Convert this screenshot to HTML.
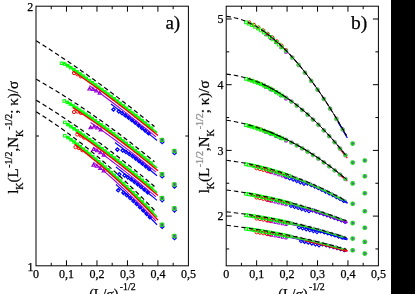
<!DOCTYPE html><html><head><meta charset="utf-8"><style>html,body{margin:0;padding:0;background:#fff;overflow:hidden;font-family:"Liberation Serif",serif}svg{display:block;will-change:transform}</style></head><body><svg width="415" height="294" viewBox="0 0 415 294">
<rect width="415" height="294" fill="#fff"/>
<rect x="391" y="0" width="24" height="294" fill="#000"/>
<g>
<polyline points="111.00,104.10 113.30,105.84 115.60,107.58 117.90,109.33 120.20,111.09 122.50,112.86 124.80,114.63 127.10,116.42 129.40,118.22 131.70,120.02 134.00,121.83 136.30,123.65 138.60,125.48 140.90,127.32 143.20,129.17 145.50,131.03 147.80,132.89 150.10,134.77 152.40,136.65 154.70,138.55 157.00,140.45" fill="none" stroke="#0000ff" stroke-width="1.2"/>
<path d="M113.50,107.84L115.15,109.49L113.50,111.14L111.85,109.49Z" fill="none" stroke="#0000ff" stroke-width="1.3"/>
<path d="M118.80,109.70L120.45,111.35L118.80,113.00L117.15,111.35Z" fill="none" stroke="#0000ff" stroke-width="1.3"/>
<path d="M122.10,111.58L123.75,113.23L122.10,114.88L120.45,113.23Z" fill="none" stroke="#0000ff" stroke-width="1.3"/>
<path d="M125.40,113.76L127.05,115.41L125.40,117.06L123.75,115.41Z" fill="none" stroke="#0000ff" stroke-width="1.3"/>
<path d="M128.70,116.11L130.35,117.76L128.70,119.41L127.05,117.76Z" fill="none" stroke="#0000ff" stroke-width="1.3"/>
<path d="M132.00,118.57L133.65,120.22L132.00,121.87L130.35,120.22Z" fill="none" stroke="#0000ff" stroke-width="1.3"/>
<path d="M135.30,121.11L136.95,122.76L135.30,124.41L133.65,122.76Z" fill="none" stroke="#0000ff" stroke-width="1.3"/>
<path d="M138.60,123.69L140.25,125.34L138.60,126.99L136.95,125.34Z" fill="none" stroke="#0000ff" stroke-width="1.3"/>
<path d="M141.90,126.31L143.55,127.96L141.90,129.61L140.25,127.96Z" fill="none" stroke="#0000ff" stroke-width="1.3"/>
<path d="M145.20,128.95L146.85,130.60L145.20,132.25L143.55,130.60Z" fill="none" stroke="#0000ff" stroke-width="1.3"/>
<path d="M148.50,131.63L150.15,133.28L148.50,134.93L146.85,133.28Z" fill="none" stroke="#0000ff" stroke-width="1.3"/>
<polyline points="89.50,85.64 92.83,88.03 96.15,90.43 99.47,92.86 102.80,95.30 106.12,97.76 109.45,100.24 112.78,102.74 116.10,105.26 119.42,107.80 122.75,110.35 126.08,112.92 129.40,115.52 132.72,118.13 136.05,120.75 139.38,123.40 142.70,126.07 146.03,128.75 149.35,131.46 152.68,134.18 156.00,136.92" fill="none" stroke="#9a00d8" stroke-width="1.1"/>
<path d="M87.90,89.93L91.10,89.93L89.50,87.15Z" fill="none" stroke="#9a00d8" stroke-width="1.1"/>
<path d="M91.30,90.42L94.50,90.42L92.90,87.64Z" fill="none" stroke="#9a00d8" stroke-width="1.1"/>
<path d="M94.70,92.05L97.90,92.05L96.30,89.27Z" fill="none" stroke="#9a00d8" stroke-width="1.1"/>
<path d="M98.10,94.18L101.30,94.18L99.70,91.39Z" fill="none" stroke="#9a00d8" stroke-width="1.1"/>
<circle cx="74.00" cy="73.05" r="1.6" fill="none" stroke="#ff0000" stroke-width="1"/>
<circle cx="77.40" cy="74.32" r="1.6" fill="none" stroke="#ff0000" stroke-width="1"/>
<circle cx="80.80" cy="76.34" r="1.6" fill="none" stroke="#ff0000" stroke-width="1"/>
<rect x="60.25" y="62.02" width="2.5" height="2.5" fill="none" stroke="#00ff00" stroke-width="1"/>
<rect x="63.35" y="62.81" width="2.5" height="2.5" fill="none" stroke="#00ff00" stroke-width="1"/>
<rect x="66.45" y="64.45" width="2.5" height="2.5" fill="none" stroke="#00ff00" stroke-width="1"/>
<rect x="69.55" y="66.40" width="2.5" height="2.5" fill="none" stroke="#00ff00" stroke-width="1"/>
<rect x="72.65" y="68.47" width="2.5" height="2.5" fill="none" stroke="#00ff00" stroke-width="1"/>
<rect x="75.75" y="70.59" width="2.5" height="2.5" fill="none" stroke="#00ff00" stroke-width="1"/>
<rect x="78.85" y="72.74" width="2.5" height="2.5" fill="none" stroke="#00ff00" stroke-width="1"/>
<rect x="81.95" y="74.92" width="2.5" height="2.5" fill="none" stroke="#00ff00" stroke-width="1"/>
<rect x="85.05" y="77.11" width="2.5" height="2.5" fill="none" stroke="#00ff00" stroke-width="1"/>
<rect x="88.15" y="79.32" width="2.5" height="2.5" fill="none" stroke="#00ff00" stroke-width="1"/>
<rect x="91.25" y="81.54" width="2.5" height="2.5" fill="none" stroke="#00ff00" stroke-width="1"/>
<rect x="94.35" y="83.78" width="2.5" height="2.5" fill="none" stroke="#00ff00" stroke-width="1"/>
<rect x="97.45" y="86.04" width="2.5" height="2.5" fill="none" stroke="#00ff00" stroke-width="1"/>
<rect x="100.55" y="88.31" width="2.5" height="2.5" fill="none" stroke="#00ff00" stroke-width="1"/>
<rect x="103.65" y="90.60" width="2.5" height="2.5" fill="none" stroke="#00ff00" stroke-width="1"/>
<rect x="106.75" y="92.91" width="2.5" height="2.5" fill="none" stroke="#00ff00" stroke-width="1"/>
<rect x="109.85" y="95.23" width="2.5" height="2.5" fill="none" stroke="#00ff00" stroke-width="1"/>
<rect x="112.95" y="97.57" width="2.5" height="2.5" fill="none" stroke="#00ff00" stroke-width="1"/>
<rect x="116.05" y="99.92" width="2.5" height="2.5" fill="none" stroke="#00ff00" stroke-width="1"/>
<rect x="119.15" y="102.29" width="2.5" height="2.5" fill="none" stroke="#00ff00" stroke-width="1"/>
<rect x="122.25" y="104.68" width="2.5" height="2.5" fill="none" stroke="#00ff00" stroke-width="1"/>
<rect x="125.35" y="107.08" width="2.5" height="2.5" fill="none" stroke="#00ff00" stroke-width="1"/>
<rect x="128.45" y="109.50" width="2.5" height="2.5" fill="none" stroke="#00ff00" stroke-width="1"/>
<rect x="131.55" y="111.93" width="2.5" height="2.5" fill="none" stroke="#00ff00" stroke-width="1"/>
<rect x="134.65" y="114.39" width="2.5" height="2.5" fill="none" stroke="#00ff00" stroke-width="1"/>
<rect x="137.75" y="116.85" width="2.5" height="2.5" fill="none" stroke="#00ff00" stroke-width="1"/>
<rect x="140.85" y="119.34" width="2.5" height="2.5" fill="none" stroke="#00ff00" stroke-width="1"/>
<rect x="143.95" y="121.84" width="2.5" height="2.5" fill="none" stroke="#00ff00" stroke-width="1"/>
<rect x="147.05" y="124.35" width="2.5" height="2.5" fill="none" stroke="#00ff00" stroke-width="1"/>
<rect x="150.15" y="126.88" width="2.5" height="2.5" fill="none" stroke="#00ff00" stroke-width="1"/>
<polyline points="63.50,62.61 66.62,64.71 69.73,66.83 72.85,68.96 75.97,71.11 79.08,73.28 82.20,75.46 85.32,77.66 88.43,79.88 91.55,82.11 94.67,84.36 97.78,86.62 100.90,88.90 104.02,91.20 107.13,93.51 110.25,95.84 113.37,98.19 116.48,100.55 119.60,102.93 122.72,105.32 125.83,107.74 128.95,110.16 132.07,112.61 135.18,115.07 138.30,117.54 141.42,120.04 144.53,122.55 147.65,125.07 150.77,127.61 153.88,130.17 157.00,132.75" fill="none" stroke="#00ff00" stroke-width="1.8"/>
<polyline points="73.00,71.06 75.83,73.02 78.67,74.99 81.50,76.97 84.33,78.96 87.17,80.97 90.00,83.00 92.83,85.03 95.67,87.08 98.50,89.14 101.33,91.22 104.17,93.31 107.00,95.41 109.83,97.53 112.67,99.66 115.50,101.80 118.33,103.96 121.17,106.13 124.00,108.32 126.83,110.51 129.67,112.72 132.50,114.95 135.33,117.19 138.17,119.44 141.00,121.70 143.83,123.98 146.67,126.27 149.50,128.58 152.33,130.90 155.17,133.23 158.00,135.58" fill="none" stroke="#ff0000" stroke-width="1.4"/>
<polyline points="36.20,40.80 38.17,42.04 40.14,43.28 42.12,44.53 44.09,45.79 46.06,47.05 48.03,48.32 50.00,49.59 51.97,50.88 53.95,52.17 55.92,53.46 57.89,54.76 59.86,56.07 61.83,57.39 63.80,58.71 65.78,60.04 67.75,61.37 69.72,62.72 71.69,64.06 73.66,65.42 75.63,66.78 77.60,68.15 79.58,69.52 81.55,70.90 83.52,72.29 85.49,73.68 87.46,75.08 89.44,76.49 91.41,77.90 93.38,79.32 95.35,80.75 97.32,82.18 99.29,83.62 101.27,85.07 103.24,86.52 105.21,87.98 107.18,89.45 109.15,90.92 111.12,92.40 113.09,93.88 115.07,95.37 117.04,96.87 119.01,98.38 120.98,99.89 122.95,101.41 124.92,102.93 126.90,104.46 128.87,106.00 130.84,107.54 132.81,109.09 134.78,110.65 136.75,112.21 138.73,113.78 140.70,115.36 142.67,116.94 144.64,118.53 146.61,120.13 148.58,121.73 150.56,123.34 152.53,124.96 154.50,126.58" fill="none" stroke="#000" stroke-width="1.2" stroke-dasharray="4.5,3"/>
<polyline points="115.00,142.60 117.10,144.17 119.20,145.74 121.30,147.32 123.40,148.91 125.50,150.51 127.60,152.12 129.70,153.74 131.80,155.37 133.90,157.01 136.00,158.66 138.10,160.32 140.20,161.99 142.30,163.67 144.40,165.36 146.50,167.06 148.60,168.76 150.70,170.48 152.80,172.21 154.90,173.94 157.00,175.69" fill="none" stroke="#0000ff" stroke-width="1.2"/>
<path d="M117.40,147.94L119.05,149.59L117.40,151.24L115.75,149.59Z" fill="none" stroke="#0000ff" stroke-width="1.3"/>
<path d="M122.70,148.76L124.35,150.41L122.70,152.06L121.05,150.41Z" fill="none" stroke="#0000ff" stroke-width="1.3"/>
<path d="M126.00,150.33L127.65,151.98L126.00,153.63L124.35,151.98Z" fill="none" stroke="#0000ff" stroke-width="1.3"/>
<path d="M129.30,152.33L130.95,153.98L129.30,155.63L127.65,153.98Z" fill="none" stroke="#0000ff" stroke-width="1.3"/>
<path d="M132.60,154.58L134.25,156.23L132.60,157.88L130.95,156.23Z" fill="none" stroke="#0000ff" stroke-width="1.3"/>
<path d="M135.90,156.98L137.55,158.63L135.90,160.28L134.25,158.63Z" fill="none" stroke="#0000ff" stroke-width="1.3"/>
<path d="M139.20,159.49L140.85,161.14L139.20,162.79L137.55,161.14Z" fill="none" stroke="#0000ff" stroke-width="1.3"/>
<path d="M142.50,162.06L144.15,163.71L142.50,165.36L140.85,163.71Z" fill="none" stroke="#0000ff" stroke-width="1.3"/>
<path d="M145.80,164.69L147.45,166.34L145.80,167.99L144.15,166.34Z" fill="none" stroke="#0000ff" stroke-width="1.3"/>
<path d="M149.10,167.35L150.75,169.00L149.10,170.65L147.45,169.00Z" fill="none" stroke="#0000ff" stroke-width="1.3"/>
<polyline points="90.60,122.47 93.87,124.73 97.14,127.01 100.41,129.32 103.68,131.65 106.95,134.01 110.22,136.39 113.49,138.79 116.76,141.21 120.03,143.66 123.30,146.14 126.57,148.63 129.84,151.15 133.11,153.69 136.38,156.26 139.65,158.85 142.92,161.47 146.19,164.10 149.46,166.76 152.73,169.45 156.00,172.16" fill="none" stroke="#9a00d8" stroke-width="1.1"/>
<path d="M89.00,128.76L92.20,128.76L90.60,125.97Z" fill="none" stroke="#9a00d8" stroke-width="1.1"/>
<path d="M92.40,128.02L95.60,128.02L94.00,125.23Z" fill="none" stroke="#9a00d8" stroke-width="1.1"/>
<path d="M95.80,129.07L99.00,129.07L97.40,126.29Z" fill="none" stroke="#9a00d8" stroke-width="1.1"/>
<path d="M99.20,130.91L102.40,130.91L100.80,128.13Z" fill="none" stroke="#9a00d8" stroke-width="1.1"/>
<circle cx="74.00" cy="112.05" r="1.6" fill="none" stroke="#ff0000" stroke-width="1"/>
<circle cx="77.40" cy="111.56" r="1.6" fill="none" stroke="#ff0000" stroke-width="1"/>
<circle cx="80.80" cy="112.94" r="1.6" fill="none" stroke="#ff0000" stroke-width="1"/>
<rect x="62.95" y="99.72" width="2.5" height="2.5" fill="none" stroke="#00ff00" stroke-width="1"/>
<rect x="66.05" y="101.11" width="2.5" height="2.5" fill="none" stroke="#00ff00" stroke-width="1"/>
<rect x="69.15" y="102.88" width="2.5" height="2.5" fill="none" stroke="#00ff00" stroke-width="1"/>
<rect x="72.25" y="104.81" width="2.5" height="2.5" fill="none" stroke="#00ff00" stroke-width="1"/>
<rect x="75.35" y="106.82" width="2.5" height="2.5" fill="none" stroke="#00ff00" stroke-width="1"/>
<rect x="78.45" y="108.85" width="2.5" height="2.5" fill="none" stroke="#00ff00" stroke-width="1"/>
<rect x="81.55" y="110.92" width="2.5" height="2.5" fill="none" stroke="#00ff00" stroke-width="1"/>
<rect x="84.65" y="113.01" width="2.5" height="2.5" fill="none" stroke="#00ff00" stroke-width="1"/>
<rect x="87.75" y="115.12" width="2.5" height="2.5" fill="none" stroke="#00ff00" stroke-width="1"/>
<rect x="90.85" y="117.25" width="2.5" height="2.5" fill="none" stroke="#00ff00" stroke-width="1"/>
<rect x="93.95" y="119.40" width="2.5" height="2.5" fill="none" stroke="#00ff00" stroke-width="1"/>
<rect x="97.05" y="121.58" width="2.5" height="2.5" fill="none" stroke="#00ff00" stroke-width="1"/>
<rect x="100.15" y="123.77" width="2.5" height="2.5" fill="none" stroke="#00ff00" stroke-width="1"/>
<rect x="103.25" y="125.99" width="2.5" height="2.5" fill="none" stroke="#00ff00" stroke-width="1"/>
<rect x="106.35" y="128.23" width="2.5" height="2.5" fill="none" stroke="#00ff00" stroke-width="1"/>
<rect x="109.45" y="130.49" width="2.5" height="2.5" fill="none" stroke="#00ff00" stroke-width="1"/>
<rect x="112.55" y="132.77" width="2.5" height="2.5" fill="none" stroke="#00ff00" stroke-width="1"/>
<rect x="115.65" y="135.07" width="2.5" height="2.5" fill="none" stroke="#00ff00" stroke-width="1"/>
<rect x="118.75" y="137.39" width="2.5" height="2.5" fill="none" stroke="#00ff00" stroke-width="1"/>
<rect x="121.85" y="139.73" width="2.5" height="2.5" fill="none" stroke="#00ff00" stroke-width="1"/>
<rect x="124.95" y="142.10" width="2.5" height="2.5" fill="none" stroke="#00ff00" stroke-width="1"/>
<rect x="128.05" y="144.48" width="2.5" height="2.5" fill="none" stroke="#00ff00" stroke-width="1"/>
<rect x="131.15" y="146.89" width="2.5" height="2.5" fill="none" stroke="#00ff00" stroke-width="1"/>
<rect x="134.25" y="149.32" width="2.5" height="2.5" fill="none" stroke="#00ff00" stroke-width="1"/>
<rect x="137.35" y="151.77" width="2.5" height="2.5" fill="none" stroke="#00ff00" stroke-width="1"/>
<rect x="140.45" y="154.24" width="2.5" height="2.5" fill="none" stroke="#00ff00" stroke-width="1"/>
<rect x="143.55" y="156.73" width="2.5" height="2.5" fill="none" stroke="#00ff00" stroke-width="1"/>
<rect x="146.65" y="159.24" width="2.5" height="2.5" fill="none" stroke="#00ff00" stroke-width="1"/>
<rect x="149.75" y="161.78" width="2.5" height="2.5" fill="none" stroke="#00ff00" stroke-width="1"/>
<polyline points="66.20,101.34 69.23,103.27 72.25,105.22 75.28,107.19 78.31,109.18 81.33,111.19 84.36,113.22 87.39,115.27 90.41,117.34 93.44,119.43 96.47,121.54 99.49,123.67 102.52,125.82 105.55,127.99 108.57,130.18 111.60,132.40 114.63,134.63 117.65,136.88 120.68,139.15 123.71,141.44 126.73,143.76 129.76,146.09 132.79,148.44 135.81,150.82 138.84,153.21 141.87,155.62 144.89,158.06 147.92,160.51 150.95,162.98 153.97,165.48 157.00,167.99" fill="none" stroke="#00ff00" stroke-width="1.8"/>
<polyline points="73.00,107.70 75.83,109.55 78.67,111.41 81.50,113.30 84.33,115.20 87.17,117.12 90.00,119.05 92.83,121.01 95.67,122.98 98.50,124.97 101.33,126.98 104.17,129.00 107.00,131.04 109.83,133.10 112.67,135.18 115.50,137.28 118.33,139.39 121.17,141.52 124.00,143.67 126.83,145.83 129.67,148.02 132.50,150.22 135.33,152.44 138.17,154.67 141.00,156.93 143.83,159.20 146.67,161.49 149.50,163.80 152.33,166.12 155.17,168.47 158.00,170.83" fill="none" stroke="#ff0000" stroke-width="1.4"/>
<polyline points="36.20,79.20 38.17,80.32 40.14,81.46 42.12,82.60 44.09,83.75 46.06,84.91 48.03,86.08 50.00,87.25 51.97,88.44 53.95,89.63 55.92,90.83 57.89,92.04 59.86,93.26 61.83,94.49 63.80,95.72 65.78,96.97 67.75,98.22 69.72,99.48 71.69,100.75 73.66,102.03 75.63,103.32 77.60,104.61 79.58,105.92 81.55,107.23 83.52,108.55 85.49,109.88 87.46,111.22 89.44,112.57 91.41,113.92 93.38,115.29 95.35,116.66 97.32,118.04 99.29,119.43 101.27,120.83 103.24,122.23 105.21,123.65 107.18,125.07 109.15,126.51 111.12,127.95 113.09,129.40 115.07,130.85 117.04,132.32 119.01,133.80 120.98,135.28 122.95,136.77 124.92,138.27 126.90,139.78 128.87,141.30 130.84,142.83 132.81,144.36 134.78,145.91 136.75,147.46 138.73,149.02 140.70,150.59 142.67,152.17 144.64,153.75 146.61,155.35 148.58,156.95 150.56,158.56 152.53,160.18 154.50,161.81" fill="none" stroke="#000" stroke-width="1.2" stroke-dasharray="4.5,3"/>
<polyline points="116.00,167.01 118.05,168.60 120.10,170.20 122.15,171.80 124.20,173.41 126.25,175.03 128.30,176.66 130.35,178.30 132.40,179.95 134.45,181.61 136.50,183.27 138.55,184.94 140.60,186.63 142.65,188.32 144.70,190.02 146.75,191.72 148.80,193.44 150.85,195.17 152.90,196.90 154.95,198.64 157.00,200.39" fill="none" stroke="#0000ff" stroke-width="1.2"/>
<path d="M119.30,172.62L120.95,174.27L119.30,175.92L117.65,174.27Z" fill="none" stroke="#0000ff" stroke-width="1.3"/>
<path d="M124.60,173.90L126.25,175.55L124.60,177.20L122.95,175.55Z" fill="none" stroke="#0000ff" stroke-width="1.3"/>
<path d="M127.90,175.66L129.55,177.31L127.90,178.96L126.25,177.31Z" fill="none" stroke="#0000ff" stroke-width="1.3"/>
<path d="M131.20,177.81L132.85,179.46L131.20,181.11L129.55,179.46Z" fill="none" stroke="#0000ff" stroke-width="1.3"/>
<path d="M134.50,180.19L136.15,181.84L134.50,183.49L132.85,181.84Z" fill="none" stroke="#0000ff" stroke-width="1.3"/>
<path d="M137.80,182.71L139.45,184.36L137.80,186.01L136.15,184.36Z" fill="none" stroke="#0000ff" stroke-width="1.3"/>
<path d="M141.10,185.32L142.75,186.97L141.10,188.62L139.45,186.97Z" fill="none" stroke="#0000ff" stroke-width="1.3"/>
<path d="M144.40,187.99L146.05,189.64L144.40,191.29L142.75,189.64Z" fill="none" stroke="#0000ff" stroke-width="1.3"/>
<path d="M147.70,190.71L149.35,192.36L147.70,194.01L146.05,192.36Z" fill="none" stroke="#0000ff" stroke-width="1.3"/>
<polyline points="93.60,147.54 96.72,149.82 99.84,152.11 102.96,154.42 106.08,156.76 109.20,159.11 112.32,161.49 115.44,163.88 118.56,166.30 121.68,168.73 124.80,171.19 127.92,173.66 131.04,176.16 134.16,178.67 137.28,181.21 140.40,183.76 143.52,186.34 146.64,188.93 149.76,191.55 152.88,194.18 156.00,196.84" fill="none" stroke="#9a00d8" stroke-width="1.1"/>
<path d="M92.00,150.33L95.20,150.33L93.60,147.55Z" fill="none" stroke="#9a00d8" stroke-width="1.1"/>
<path d="M95.40,151.72L98.60,151.72L97.00,148.94Z" fill="none" stroke="#9a00d8" stroke-width="1.1"/>
<path d="M98.80,153.76L102.00,153.76L100.40,150.98Z" fill="none" stroke="#9a00d8" stroke-width="1.1"/>
<path d="M102.20,156.09L105.40,156.09L103.80,153.31Z" fill="none" stroke="#9a00d8" stroke-width="1.1"/>
<circle cx="77.30" cy="134.48" r="1.6" fill="none" stroke="#ff0000" stroke-width="1"/>
<circle cx="80.70" cy="135.63" r="1.6" fill="none" stroke="#ff0000" stroke-width="1"/>
<circle cx="84.10" cy="137.63" r="1.6" fill="none" stroke="#ff0000" stroke-width="1"/>
<rect x="63.55" y="121.14" width="2.5" height="2.5" fill="none" stroke="#00ff00" stroke-width="1"/>
<rect x="66.65" y="123.28" width="2.5" height="2.5" fill="none" stroke="#00ff00" stroke-width="1"/>
<rect x="69.75" y="125.40" width="2.5" height="2.5" fill="none" stroke="#00ff00" stroke-width="1"/>
<rect x="72.85" y="127.53" width="2.5" height="2.5" fill="none" stroke="#00ff00" stroke-width="1"/>
<rect x="75.95" y="129.66" width="2.5" height="2.5" fill="none" stroke="#00ff00" stroke-width="1"/>
<rect x="79.05" y="131.82" width="2.5" height="2.5" fill="none" stroke="#00ff00" stroke-width="1"/>
<rect x="82.15" y="133.99" width="2.5" height="2.5" fill="none" stroke="#00ff00" stroke-width="1"/>
<rect x="85.25" y="136.19" width="2.5" height="2.5" fill="none" stroke="#00ff00" stroke-width="1"/>
<rect x="88.35" y="138.40" width="2.5" height="2.5" fill="none" stroke="#00ff00" stroke-width="1"/>
<rect x="91.45" y="140.64" width="2.5" height="2.5" fill="none" stroke="#00ff00" stroke-width="1"/>
<rect x="94.55" y="142.89" width="2.5" height="2.5" fill="none" stroke="#00ff00" stroke-width="1"/>
<rect x="97.65" y="145.17" width="2.5" height="2.5" fill="none" stroke="#00ff00" stroke-width="1"/>
<rect x="100.75" y="147.46" width="2.5" height="2.5" fill="none" stroke="#00ff00" stroke-width="1"/>
<rect x="103.85" y="149.77" width="2.5" height="2.5" fill="none" stroke="#00ff00" stroke-width="1"/>
<rect x="106.95" y="152.11" width="2.5" height="2.5" fill="none" stroke="#00ff00" stroke-width="1"/>
<rect x="110.05" y="154.46" width="2.5" height="2.5" fill="none" stroke="#00ff00" stroke-width="1"/>
<rect x="113.15" y="156.83" width="2.5" height="2.5" fill="none" stroke="#00ff00" stroke-width="1"/>
<rect x="116.25" y="159.22" width="2.5" height="2.5" fill="none" stroke="#00ff00" stroke-width="1"/>
<rect x="119.35" y="161.64" width="2.5" height="2.5" fill="none" stroke="#00ff00" stroke-width="1"/>
<rect x="122.45" y="164.07" width="2.5" height="2.5" fill="none" stroke="#00ff00" stroke-width="1"/>
<rect x="125.55" y="166.52" width="2.5" height="2.5" fill="none" stroke="#00ff00" stroke-width="1"/>
<rect x="128.65" y="168.99" width="2.5" height="2.5" fill="none" stroke="#00ff00" stroke-width="1"/>
<rect x="131.75" y="171.48" width="2.5" height="2.5" fill="none" stroke="#00ff00" stroke-width="1"/>
<rect x="134.85" y="174.00" width="2.5" height="2.5" fill="none" stroke="#00ff00" stroke-width="1"/>
<rect x="137.95" y="176.53" width="2.5" height="2.5" fill="none" stroke="#00ff00" stroke-width="1"/>
<rect x="141.05" y="179.08" width="2.5" height="2.5" fill="none" stroke="#00ff00" stroke-width="1"/>
<rect x="144.15" y="181.65" width="2.5" height="2.5" fill="none" stroke="#00ff00" stroke-width="1"/>
<rect x="147.25" y="184.24" width="2.5" height="2.5" fill="none" stroke="#00ff00" stroke-width="1"/>
<rect x="150.35" y="186.85" width="2.5" height="2.5" fill="none" stroke="#00ff00" stroke-width="1"/>
<polyline points="66.80,123.83 69.81,125.86 72.81,127.90 75.82,129.96 78.83,132.04 81.83,134.14 84.84,136.26 87.85,138.40 90.85,140.56 93.86,142.73 96.87,144.92 99.87,147.13 102.88,149.36 105.89,151.61 108.89,153.88 111.90,156.17 114.91,158.47 117.91,160.80 120.92,163.14 123.93,165.50 126.93,167.88 129.94,170.27 132.95,172.69 135.95,175.13 138.96,177.58 141.97,180.05 144.97,182.54 147.98,185.05 150.99,187.58 153.99,190.13 157.00,192.69" fill="none" stroke="#00ff00" stroke-width="1.8"/>
<polyline points="76.30,132.29 79.02,134.18 81.75,136.08 84.47,138.00 87.19,139.93 89.92,141.88 92.64,143.84 95.36,145.82 98.09,147.82 100.81,149.83 103.53,151.85 106.26,153.89 108.98,155.95 111.70,158.02 114.43,160.10 117.15,162.20 119.87,164.32 122.60,166.45 125.32,168.60 128.04,170.76 130.77,172.94 133.49,175.13 136.21,177.34 138.94,179.56 141.66,181.80 144.38,184.05 147.11,186.32 149.83,188.61 152.55,190.91 155.28,193.22 158.00,195.55" fill="none" stroke="#ff0000" stroke-width="1.4"/>
<polyline points="36.20,100.18 38.17,101.38 40.14,102.59 42.12,103.81 44.09,105.03 46.06,106.27 48.03,107.51 50.00,108.76 51.97,110.01 53.95,111.28 55.92,112.55 57.89,113.84 59.86,115.13 61.83,116.42 63.80,117.73 65.78,119.04 67.75,120.37 69.72,121.70 71.69,123.03 73.66,124.38 75.63,125.73 77.60,127.10 79.58,128.47 81.55,129.84 83.52,131.23 85.49,132.62 87.46,134.03 89.44,135.44 91.41,136.85 93.38,138.28 95.35,139.71 97.32,141.16 99.29,142.61 101.27,144.06 103.24,145.53 105.21,147.00 107.18,148.49 109.15,149.98 111.12,151.47 113.09,152.98 115.07,154.49 117.04,156.02 119.01,157.55 120.98,159.09 122.95,160.63 124.92,162.19 126.90,163.75 128.87,165.32 130.84,166.90 132.81,168.48 134.78,170.08 136.75,171.68 138.73,173.29 140.70,174.91 142.67,176.53 144.64,178.17 146.61,179.81 148.58,181.46 150.56,183.12 152.53,184.78 154.50,186.46" fill="none" stroke="#000" stroke-width="1.2" stroke-dasharray="4.5,3"/>
<polyline points="116.00,184.51 118.05,186.38 120.10,188.27 122.15,190.16 124.20,192.08 126.25,194.01 128.30,195.95 130.35,197.91 132.40,199.88 134.45,201.87 136.50,203.88 138.55,205.90 140.60,207.93 142.65,209.98 144.70,212.04 146.75,214.12 148.80,216.22 150.85,218.33 152.90,220.46 154.95,222.60 157.00,224.75" fill="none" stroke="#0000ff" stroke-width="1.2"/>
<path d="M118.20,188.57L119.85,190.22L118.20,191.87L116.55,190.22Z" fill="none" stroke="#0000ff" stroke-width="1.3"/>
<path d="M123.50,191.18L125.15,192.83L123.50,194.48L121.85,192.83Z" fill="none" stroke="#0000ff" stroke-width="1.3"/>
<path d="M126.80,193.61L128.45,195.26L126.80,196.91L125.15,195.26Z" fill="none" stroke="#0000ff" stroke-width="1.3"/>
<path d="M130.10,196.36L131.75,198.01L130.10,199.66L128.45,198.01Z" fill="none" stroke="#0000ff" stroke-width="1.3"/>
<path d="M133.40,199.31L135.05,200.96L133.40,202.61L131.75,200.96Z" fill="none" stroke="#0000ff" stroke-width="1.3"/>
<path d="M136.70,202.40L138.35,204.05L136.70,205.70L135.05,204.05Z" fill="none" stroke="#0000ff" stroke-width="1.3"/>
<path d="M140.00,205.59L141.65,207.24L140.00,208.89L138.35,207.24Z" fill="none" stroke="#0000ff" stroke-width="1.3"/>
<path d="M143.30,208.84L144.95,210.49L143.30,212.14L141.65,210.49Z" fill="none" stroke="#0000ff" stroke-width="1.3"/>
<path d="M146.60,212.16L148.25,213.81L146.60,215.46L144.95,213.81Z" fill="none" stroke="#0000ff" stroke-width="1.3"/>
<path d="M149.90,215.52L151.55,217.17L149.90,218.82L148.25,217.17Z" fill="none" stroke="#0000ff" stroke-width="1.3"/>
<polyline points="93.50,162.30 96.62,164.90 99.75,167.54 102.88,170.21 106.00,172.92 109.12,175.66 112.25,178.44 115.38,181.25 118.50,184.09 121.62,186.98 124.75,189.89 127.88,192.85 131.00,195.83 134.12,198.86 137.25,201.91 140.38,205.01 143.50,208.13 146.62,211.30 149.75,214.50 152.88,217.73 156.00,221.00" fill="none" stroke="#9a00d8" stroke-width="1.1"/>
<path d="M91.90,166.10L95.10,166.10L93.50,163.31Z" fill="none" stroke="#9a00d8" stroke-width="1.1"/>
<path d="M95.30,167.27L98.50,167.27L96.90,164.48Z" fill="none" stroke="#9a00d8" stroke-width="1.1"/>
<path d="M98.70,169.43L101.90,169.43L100.30,166.65Z" fill="none" stroke="#9a00d8" stroke-width="1.1"/>
<path d="M102.10,172.04L105.30,172.04L103.70,169.26Z" fill="none" stroke="#9a00d8" stroke-width="1.1"/>
<circle cx="75.50" cy="147.11" r="1.6" fill="none" stroke="#ff0000" stroke-width="1"/>
<circle cx="78.90" cy="148.09" r="1.6" fill="none" stroke="#ff0000" stroke-width="1"/>
<circle cx="82.30" cy="150.22" r="1.6" fill="none" stroke="#ff0000" stroke-width="1"/>
<rect x="63.55" y="134.51" width="2.5" height="2.5" fill="none" stroke="#00ff00" stroke-width="1"/>
<rect x="66.65" y="136.32" width="2.5" height="2.5" fill="none" stroke="#00ff00" stroke-width="1"/>
<rect x="69.75" y="138.45" width="2.5" height="2.5" fill="none" stroke="#00ff00" stroke-width="1"/>
<rect x="72.85" y="140.73" width="2.5" height="2.5" fill="none" stroke="#00ff00" stroke-width="1"/>
<rect x="75.95" y="143.07" width="2.5" height="2.5" fill="none" stroke="#00ff00" stroke-width="1"/>
<rect x="79.05" y="145.46" width="2.5" height="2.5" fill="none" stroke="#00ff00" stroke-width="1"/>
<rect x="82.15" y="147.89" width="2.5" height="2.5" fill="none" stroke="#00ff00" stroke-width="1"/>
<rect x="85.25" y="150.36" width="2.5" height="2.5" fill="none" stroke="#00ff00" stroke-width="1"/>
<rect x="88.35" y="152.86" width="2.5" height="2.5" fill="none" stroke="#00ff00" stroke-width="1"/>
<rect x="91.45" y="155.39" width="2.5" height="2.5" fill="none" stroke="#00ff00" stroke-width="1"/>
<rect x="94.55" y="157.96" width="2.5" height="2.5" fill="none" stroke="#00ff00" stroke-width="1"/>
<rect x="97.65" y="160.57" width="2.5" height="2.5" fill="none" stroke="#00ff00" stroke-width="1"/>
<rect x="100.75" y="163.21" width="2.5" height="2.5" fill="none" stroke="#00ff00" stroke-width="1"/>
<rect x="103.85" y="165.88" width="2.5" height="2.5" fill="none" stroke="#00ff00" stroke-width="1"/>
<rect x="106.95" y="168.59" width="2.5" height="2.5" fill="none" stroke="#00ff00" stroke-width="1"/>
<rect x="110.05" y="171.34" width="2.5" height="2.5" fill="none" stroke="#00ff00" stroke-width="1"/>
<rect x="113.15" y="174.12" width="2.5" height="2.5" fill="none" stroke="#00ff00" stroke-width="1"/>
<rect x="116.25" y="176.93" width="2.5" height="2.5" fill="none" stroke="#00ff00" stroke-width="1"/>
<rect x="119.35" y="179.78" width="2.5" height="2.5" fill="none" stroke="#00ff00" stroke-width="1"/>
<rect x="122.45" y="182.66" width="2.5" height="2.5" fill="none" stroke="#00ff00" stroke-width="1"/>
<rect x="125.55" y="185.58" width="2.5" height="2.5" fill="none" stroke="#00ff00" stroke-width="1"/>
<rect x="128.65" y="188.53" width="2.5" height="2.5" fill="none" stroke="#00ff00" stroke-width="1"/>
<rect x="131.75" y="191.51" width="2.5" height="2.5" fill="none" stroke="#00ff00" stroke-width="1"/>
<rect x="134.85" y="194.53" width="2.5" height="2.5" fill="none" stroke="#00ff00" stroke-width="1"/>
<rect x="137.95" y="197.59" width="2.5" height="2.5" fill="none" stroke="#00ff00" stroke-width="1"/>
<rect x="141.05" y="200.68" width="2.5" height="2.5" fill="none" stroke="#00ff00" stroke-width="1"/>
<rect x="144.15" y="203.80" width="2.5" height="2.5" fill="none" stroke="#00ff00" stroke-width="1"/>
<rect x="147.25" y="206.96" width="2.5" height="2.5" fill="none" stroke="#00ff00" stroke-width="1"/>
<rect x="150.35" y="210.16" width="2.5" height="2.5" fill="none" stroke="#00ff00" stroke-width="1"/>
<polyline points="66.80,136.52 69.81,138.73 72.81,140.97 75.82,143.25 78.83,145.56 81.83,147.91 84.84,150.28 87.85,152.69 90.85,155.13 93.86,157.60 96.87,160.11 99.87,162.65 102.88,165.22 105.89,167.82 108.89,170.45 111.90,173.12 114.91,175.82 117.91,178.56 120.92,181.32 123.93,184.12 126.93,186.95 129.94,189.82 132.95,192.71 135.95,195.64 138.96,198.60 141.97,201.60 144.97,204.62 147.98,207.68 150.99,210.77 153.99,213.90 157.00,217.05" fill="none" stroke="#00ff00" stroke-width="1.8"/>
<polyline points="74.50,144.25 77.28,146.37 80.07,148.52 82.85,150.70 85.63,152.91 88.42,155.15 91.20,157.41 93.98,159.70 96.77,162.02 99.55,164.37 102.33,166.75 105.12,169.15 107.90,171.58 110.68,174.04 113.47,176.53 116.25,179.04 119.03,181.58 121.82,184.15 124.60,186.75 127.38,189.38 130.17,192.03 132.95,194.71 135.73,197.42 138.52,200.16 141.30,202.93 144.08,205.72 146.87,208.54 149.65,211.39 152.43,214.27 155.22,217.18 158.00,220.11" fill="none" stroke="#ff0000" stroke-width="1.4"/>
<polyline points="36.20,111.75 38.17,112.98 40.14,114.22 42.12,115.48 44.09,116.75 46.06,118.04 48.03,119.34 50.00,120.65 51.97,121.98 53.95,123.32 55.92,124.68 57.89,126.05 59.86,127.43 61.83,128.83 63.80,130.24 65.78,131.67 67.75,133.11 69.72,134.56 71.69,136.03 73.66,137.51 75.63,139.01 77.60,140.52 79.58,142.04 81.55,143.58 83.52,145.13 85.49,146.70 87.46,148.28 89.44,149.87 91.41,151.48 93.38,153.10 95.35,154.74 97.32,156.39 99.29,158.05 101.27,159.73 103.24,161.42 105.21,163.13 107.18,164.85 109.15,166.58 111.12,168.33 113.09,170.09 115.07,171.87 117.04,173.66 119.01,175.46 120.98,177.28 122.95,179.11 124.92,180.96 126.90,182.82 128.87,184.69 130.84,186.58 132.81,188.48 134.78,190.40 136.75,192.33 138.73,194.27 140.70,196.23 142.67,198.20 144.64,200.19 146.61,202.19 148.58,204.20 150.56,206.23 152.53,208.27 154.50,210.32" fill="none" stroke="#000" stroke-width="1.2" stroke-dasharray="4.5,3"/>
</g>
<path d="M162.20,140.10L164.00,141.90L162.20,143.70L160.40,141.90Z" fill="none" stroke="#0000ff" stroke-width="1.2"/>
<rect x="159.60" y="138.40" width="3.2" height="3.2" fill="none" stroke="#f0a080" stroke-width="0.6"/>
<rect x="160.65" y="138.25" width="3.1" height="3.3" rx="0.8" fill="#6a40b0" stroke="#10e010" stroke-width="1.2"/>
<path d="M162.20,174.40L164.00,176.20L162.20,178.00L160.40,176.20Z" fill="none" stroke="#0000ff" stroke-width="1.2"/>
<rect x="159.60" y="172.70" width="3.2" height="3.2" fill="none" stroke="#f0a080" stroke-width="0.6"/>
<rect x="160.65" y="172.55" width="3.1" height="3.3" rx="0.8" fill="#6a40b0" stroke="#10e010" stroke-width="1.2"/>
<path d="M162.20,198.30L164.00,200.10L162.20,201.90L160.40,200.10Z" fill="none" stroke="#0000ff" stroke-width="1.2"/>
<rect x="159.60" y="196.60" width="3.2" height="3.2" fill="none" stroke="#f0a080" stroke-width="0.6"/>
<rect x="160.65" y="196.45" width="3.1" height="3.3" rx="0.8" fill="#6a40b0" stroke="#10e010" stroke-width="1.2"/>
<path d="M162.20,224.90L164.00,226.70L162.20,228.50L160.40,226.70Z" fill="none" stroke="#0000ff" stroke-width="1.2"/>
<rect x="159.60" y="223.20" width="3.2" height="3.2" fill="none" stroke="#f0a080" stroke-width="0.6"/>
<rect x="160.65" y="223.05" width="3.1" height="3.3" rx="0.8" fill="#6a40b0" stroke="#10e010" stroke-width="1.2"/>
<path d="M174.50,151.10L176.30,152.90L174.50,154.70L172.70,152.90Z" fill="none" stroke="#0000ff" stroke-width="1.2"/>
<rect x="171.90" y="149.40" width="3.2" height="3.2" fill="none" stroke="#f0a080" stroke-width="0.6"/>
<rect x="172.95" y="149.25" width="3.1" height="3.3" rx="0.8" fill="#6a40b0" stroke="#10e010" stroke-width="1.2"/>
<path d="M174.50,184.60L176.30,186.40L174.50,188.20L172.70,186.40Z" fill="none" stroke="#0000ff" stroke-width="1.2"/>
<rect x="171.90" y="182.90" width="3.2" height="3.2" fill="none" stroke="#f0a080" stroke-width="0.6"/>
<rect x="172.95" y="182.75" width="3.1" height="3.3" rx="0.8" fill="#6a40b0" stroke="#10e010" stroke-width="1.2"/>
<path d="M174.50,208.50L176.30,210.30L174.50,212.10L172.70,210.30Z" fill="none" stroke="#0000ff" stroke-width="1.2"/>
<rect x="171.90" y="206.80" width="3.2" height="3.2" fill="none" stroke="#f0a080" stroke-width="0.6"/>
<rect x="172.95" y="206.65" width="3.1" height="3.3" rx="0.8" fill="#6a40b0" stroke="#10e010" stroke-width="1.2"/>
<path d="M174.50,236.10L176.30,237.90L174.50,239.70L172.70,237.90Z" fill="none" stroke="#0000ff" stroke-width="1.2"/>
<rect x="171.90" y="234.40" width="3.2" height="3.2" fill="none" stroke="#f0a080" stroke-width="0.6"/>
<rect x="172.95" y="234.25" width="3.1" height="3.3" rx="0.8" fill="#6a40b0" stroke="#10e010" stroke-width="1.2"/>
<rect x="36.0" y="6.2" width="152.4" height="259.6" fill="none" stroke="#000" stroke-width="1.0"/>
<line x1="51.24" y1="265.8" x2="51.24" y2="262.8" stroke="#000" stroke-width="1"/>
<line x1="51.24" y1="6.2" x2="51.24" y2="9.2" stroke="#000" stroke-width="1"/>
<line x1="66.48" y1="265.8" x2="66.48" y2="260.3" stroke="#000" stroke-width="1"/>
<line x1="66.48" y1="6.2" x2="66.48" y2="11.7" stroke="#000" stroke-width="1"/>
<line x1="81.72" y1="265.8" x2="81.72" y2="262.8" stroke="#000" stroke-width="1"/>
<line x1="81.72" y1="6.2" x2="81.72" y2="9.2" stroke="#000" stroke-width="1"/>
<line x1="96.96" y1="265.8" x2="96.96" y2="260.3" stroke="#000" stroke-width="1"/>
<line x1="96.96" y1="6.2" x2="96.96" y2="11.7" stroke="#000" stroke-width="1"/>
<line x1="112.20" y1="265.8" x2="112.20" y2="262.8" stroke="#000" stroke-width="1"/>
<line x1="112.20" y1="6.2" x2="112.20" y2="9.2" stroke="#000" stroke-width="1"/>
<line x1="127.44" y1="265.8" x2="127.44" y2="260.3" stroke="#000" stroke-width="1"/>
<line x1="127.44" y1="6.2" x2="127.44" y2="11.7" stroke="#000" stroke-width="1"/>
<line x1="142.68" y1="265.8" x2="142.68" y2="262.8" stroke="#000" stroke-width="1"/>
<line x1="142.68" y1="6.2" x2="142.68" y2="9.2" stroke="#000" stroke-width="1"/>
<line x1="157.92" y1="265.8" x2="157.92" y2="260.3" stroke="#000" stroke-width="1"/>
<line x1="157.92" y1="6.2" x2="157.92" y2="11.7" stroke="#000" stroke-width="1"/>
<line x1="173.16" y1="265.8" x2="173.16" y2="262.8" stroke="#000" stroke-width="1"/>
<line x1="173.16" y1="6.2" x2="173.16" y2="9.2" stroke="#000" stroke-width="1"/>
<line x1="36.0" y1="136.00" x2="39.0" y2="136.00" stroke="#000" stroke-width="1"/>
<line x1="188.4" y1="136.00" x2="185.4" y2="136.00" stroke="#000" stroke-width="1"/>
<polyline points="338.00,122.03 339.55,124.63 341.10,127.26 342.65,129.91 344.20,132.59 345.75,135.29 347.30,138.02" fill="none" stroke="#0000ff" stroke-width="1.3"/>
<path d="M264.60,35.65L267.40,35.65L266.00,33.21Z" fill="none" stroke="#9a00d8" stroke-width="1.0"/>
<path d="M269.60,39.48L272.40,39.48L271.00,37.05Z" fill="none" stroke="#9a00d8" stroke-width="1.0"/>
<path d="M274.60,43.69L277.40,43.69L276.00,41.26Z" fill="none" stroke="#9a00d8" stroke-width="1.0"/>
<path d="M279.60,48.26L282.40,48.26L281.00,45.82Z" fill="none" stroke="#9a00d8" stroke-width="1.0"/>
<path d="M284.60,53.19L287.40,53.19L286.00,50.75Z" fill="none" stroke="#9a00d8" stroke-width="1.0"/>
<circle cx="249.30" cy="22.38" r="1.5" fill="none" stroke="#ff0000" stroke-width="1"/>
<circle cx="253.90" cy="24.71" r="1.5" fill="none" stroke="#ff0000" stroke-width="1"/>
<circle cx="258.50" cy="27.38" r="1.5" fill="none" stroke="#ff0000" stroke-width="1"/>
<circle cx="263.10" cy="30.37" r="1.5" fill="none" stroke="#ff0000" stroke-width="1"/>
<circle cx="267.70" cy="33.69" r="1.5" fill="none" stroke="#ff0000" stroke-width="1"/>
<circle cx="272.30" cy="37.32" r="1.5" fill="none" stroke="#ff0000" stroke-width="1"/>
<circle cx="276.90" cy="41.27" r="1.5" fill="none" stroke="#ff0000" stroke-width="1"/>
<circle cx="281.50" cy="45.52" r="1.5" fill="none" stroke="#ff0000" stroke-width="1"/>
<circle cx="286.10" cy="50.07" r="1.5" fill="none" stroke="#ff0000" stroke-width="1"/>
<rect x="244.60" y="20.91" width="2.8" height="2.8" fill="none" stroke="#00ff00" stroke-width="1"/>
<rect x="247.60" y="22.24" width="2.8" height="2.8" fill="none" stroke="#00ff00" stroke-width="1"/>
<rect x="250.60" y="23.71" width="2.8" height="2.8" fill="none" stroke="#00ff00" stroke-width="1"/>
<rect x="253.60" y="25.32" width="2.8" height="2.8" fill="none" stroke="#00ff00" stroke-width="1"/>
<rect x="256.60" y="27.07" width="2.8" height="2.8" fill="none" stroke="#00ff00" stroke-width="1"/>
<rect x="259.60" y="28.97" width="2.8" height="2.8" fill="none" stroke="#00ff00" stroke-width="1"/>
<rect x="262.60" y="31.00" width="2.8" height="2.8" fill="none" stroke="#00ff00" stroke-width="1"/>
<rect x="265.60" y="33.17" width="2.8" height="2.8" fill="none" stroke="#00ff00" stroke-width="1"/>
<rect x="268.60" y="35.47" width="2.8" height="2.8" fill="none" stroke="#00ff00" stroke-width="1"/>
<rect x="271.60" y="37.91" width="2.8" height="2.8" fill="none" stroke="#00ff00" stroke-width="1"/>
<rect x="274.60" y="40.47" width="2.8" height="2.8" fill="none" stroke="#00ff00" stroke-width="1"/>
<rect x="277.60" y="43.17" width="2.8" height="2.8" fill="none" stroke="#00ff00" stroke-width="1"/>
<rect x="280.60" y="46.00" width="2.8" height="2.8" fill="none" stroke="#00ff00" stroke-width="1"/>
<circle cx="286.00" cy="50.97" r="2.1" fill="#22ee22" stroke="#b050c0" stroke-width="0.4"/>
<circle cx="292.30" cy="57.67" r="2.1" fill="#22ee22" stroke="#b050c0" stroke-width="0.4"/>
<circle cx="298.60" cy="64.91" r="2.1" fill="#22ee22" stroke="#b050c0" stroke-width="0.4"/>
<circle cx="304.90" cy="72.67" r="2.1" fill="#22ee22" stroke="#b050c0" stroke-width="0.4"/>
<circle cx="311.20" cy="80.95" r="2.1" fill="#22ee22" stroke="#b050c0" stroke-width="0.4"/>
<circle cx="317.50" cy="89.72" r="2.1" fill="#22ee22" stroke="#b050c0" stroke-width="0.4"/>
<circle cx="323.80" cy="98.97" r="2.1" fill="#22ee22" stroke="#b050c0" stroke-width="0.4"/>
<circle cx="330.10" cy="108.70" r="2.1" fill="#22ee22" stroke="#b050c0" stroke-width="0.4"/>
<circle cx="336.40" cy="118.88" r="2.1" fill="#22ee22" stroke="#b050c0" stroke-width="0.4"/>
<circle cx="342.70" cy="129.50" r="2.1" fill="#22ee22" stroke="#b050c0" stroke-width="0.4"/>
<polyline points="226.40,16.40 228.40,16.61 230.40,16.90 232.41,17.25 234.41,17.67 236.41,18.16 238.41,18.71 240.41,19.33 242.41,20.02 244.41,20.77 246.42,21.59 248.42,22.47 250.42,23.42 252.42,24.43 254.42,25.50 256.43,26.64 258.43,27.83 260.43,29.10 262.43,30.42 264.43,31.80 266.43,33.25 268.44,34.75 270.44,36.32 272.44,37.94 274.44,39.62 276.44,41.36 278.44,43.16 280.44,45.02 282.45,46.93 284.45,48.90 286.45,50.93 288.45,53.01 290.45,55.15 292.45,57.34 294.46,59.59 296.46,61.89 298.46,64.24 300.46,66.65 302.46,69.11 304.47,71.62 306.47,74.18 308.47,76.80 310.47,79.46 312.47,82.18 314.47,84.94 316.48,87.76 318.48,90.62 320.48,93.54 322.48,96.50 324.48,99.50 326.48,102.56 328.49,105.66 330.49,108.81 332.49,112.01 334.49,115.25 336.49,118.53 338.49,121.86 340.50,125.23 342.50,128.65 344.50,132.11 346.50,135.61" fill="none" stroke="#000" stroke-width="1.1" stroke-dasharray="4.5,3"/>
<polyline points="262.00,30.13 264.10,31.57 266.20,33.07 268.30,34.65 270.40,36.29 272.50,37.99 274.60,39.76 276.70,41.59 278.80,43.49 280.90,45.45 283.00,47.47 285.10,49.55 287.20,51.70 289.30,53.91 291.40,56.18 293.50,58.51 295.60,60.89 297.70,63.34 299.80,65.85 301.90,68.41 304.00,71.03 306.10,73.71 308.20,76.44 310.30,79.23 312.40,82.08 314.50,84.98 316.60,87.94 318.70,90.95 320.80,94.01 322.90,97.12 325.00,100.29 327.10,103.51 329.20,106.78 331.30,110.10 333.40,113.48 335.50,116.90 337.60,120.37 339.70,123.89 341.80,127.46 343.90,131.07 346.00,134.73" fill="none" stroke="#000" stroke-width="1.0"/>
<polyline points="338.00,146.72 339.55,148.57 341.10,150.44 342.65,152.34 344.20,154.26 345.75,156.20 347.30,158.17" fill="none" stroke="#ff0000" stroke-width="1.3"/>
<path d="M264.60,88.35L267.40,88.35L266.00,85.91Z" fill="none" stroke="#9a00d8" stroke-width="1.0"/>
<path d="M269.60,90.89L272.40,90.89L271.00,88.45Z" fill="none" stroke="#9a00d8" stroke-width="1.0"/>
<path d="M274.60,93.67L277.40,93.67L276.00,91.23Z" fill="none" stroke="#9a00d8" stroke-width="1.0"/>
<path d="M279.60,96.70L282.40,96.70L281.00,94.26Z" fill="none" stroke="#9a00d8" stroke-width="1.0"/>
<path d="M284.60,99.97L287.40,99.97L286.00,97.53Z" fill="none" stroke="#9a00d8" stroke-width="1.0"/>
<circle cx="249.30" cy="79.52" r="1.4" fill="none" stroke="#ff0000" stroke-width="1"/>
<circle cx="253.10" cy="80.81" r="1.4" fill="none" stroke="#ff0000" stroke-width="1"/>
<circle cx="256.90" cy="82.24" r="1.4" fill="none" stroke="#ff0000" stroke-width="1"/>
<circle cx="260.70" cy="83.81" r="1.4" fill="none" stroke="#ff0000" stroke-width="1"/>
<circle cx="264.50" cy="85.52" r="1.4" fill="none" stroke="#ff0000" stroke-width="1"/>
<circle cx="268.30" cy="87.37" r="1.4" fill="none" stroke="#ff0000" stroke-width="1"/>
<circle cx="272.10" cy="89.36" r="1.4" fill="none" stroke="#ff0000" stroke-width="1"/>
<rect x="244.60" y="77.42" width="2.8" height="2.8" fill="none" stroke="#00ff00" stroke-width="1"/>
<rect x="247.60" y="78.33" width="2.8" height="2.8" fill="none" stroke="#00ff00" stroke-width="1"/>
<rect x="250.60" y="79.32" width="2.8" height="2.8" fill="none" stroke="#00ff00" stroke-width="1"/>
<rect x="253.60" y="80.41" width="2.8" height="2.8" fill="none" stroke="#00ff00" stroke-width="1"/>
<rect x="256.60" y="81.58" width="2.8" height="2.8" fill="none" stroke="#00ff00" stroke-width="1"/>
<rect x="259.60" y="82.84" width="2.8" height="2.8" fill="none" stroke="#00ff00" stroke-width="1"/>
<rect x="262.60" y="84.19" width="2.8" height="2.8" fill="none" stroke="#00ff00" stroke-width="1"/>
<rect x="265.60" y="85.62" width="2.8" height="2.8" fill="none" stroke="#00ff00" stroke-width="1"/>
<rect x="268.60" y="87.14" width="2.8" height="2.8" fill="none" stroke="#00ff00" stroke-width="1"/>
<rect x="271.60" y="88.75" width="2.8" height="2.8" fill="none" stroke="#00ff00" stroke-width="1"/>
<rect x="274.60" y="90.45" width="2.8" height="2.8" fill="none" stroke="#00ff00" stroke-width="1"/>
<rect x="277.60" y="92.24" width="2.8" height="2.8" fill="none" stroke="#00ff00" stroke-width="1"/>
<rect x="280.60" y="94.11" width="2.8" height="2.8" fill="none" stroke="#00ff00" stroke-width="1"/>
<polyline points="247.00,79.11 248.85,79.68 250.70,80.28 252.55,80.92 254.40,81.58 256.25,82.29 258.10,83.02 259.95,83.79 261.80,84.59 263.65,85.42 265.50,86.29 267.35,87.19 269.20,88.13 271.05,89.10 272.90,90.10 274.75,91.13 276.60,92.20 278.45,93.30 280.30,94.44 282.15,95.61 284.00,96.81" fill="none" stroke="#00ff00" stroke-width="1.6"/>
<circle cx="286.00" cy="97.75" r="2.1" fill="#22ee22" stroke="#b050c0" stroke-width="0.4"/>
<circle cx="291.40" cy="101.55" r="2.1" fill="#22ee22" stroke="#b050c0" stroke-width="0.4"/>
<circle cx="296.80" cy="105.64" r="2.1" fill="#22ee22" stroke="#b050c0" stroke-width="0.4"/>
<circle cx="302.20" cy="110.02" r="2.1" fill="#22ee22" stroke="#b050c0" stroke-width="0.4"/>
<circle cx="307.60" cy="114.68" r="2.1" fill="#22ee22" stroke="#b050c0" stroke-width="0.4"/>
<circle cx="313.00" cy="119.62" r="2.1" fill="#22ee22" stroke="#b050c0" stroke-width="0.4"/>
<circle cx="318.40" cy="124.85" r="2.1" fill="#22ee22" stroke="#b050c0" stroke-width="0.4"/>
<circle cx="323.80" cy="130.36" r="2.1" fill="#22ee22" stroke="#b050c0" stroke-width="0.4"/>
<circle cx="329.20" cy="136.16" r="2.1" fill="#22ee22" stroke="#b050c0" stroke-width="0.4"/>
<circle cx="334.60" cy="142.24" r="2.1" fill="#22ee22" stroke="#b050c0" stroke-width="0.4"/>
<circle cx="340.00" cy="148.61" r="2.1" fill="#22ee22" stroke="#b050c0" stroke-width="0.4"/>
<circle cx="345.40" cy="155.26" r="2.1" fill="#22ee22" stroke="#b050c0" stroke-width="0.4"/>
<polyline points="226.40,74.15 228.40,74.37 230.40,74.62 232.41,74.91 234.41,75.24 236.41,75.61 238.41,76.02 240.41,76.46 242.41,76.95 244.41,77.48 246.42,78.04 248.42,78.65 250.42,79.29 252.42,79.97 254.42,80.69 256.43,81.45 258.43,82.25 260.43,83.09 262.43,83.97 264.43,84.89 266.43,85.84 268.44,86.84 270.44,87.87 272.44,88.95 274.44,90.06 276.44,91.21 278.44,92.40 280.44,93.63 282.45,94.90 284.45,96.21 286.45,97.55 288.45,98.94 290.45,100.37 292.45,101.83 294.46,103.33 296.46,104.88 298.46,106.46 300.46,108.08 302.46,109.74 304.47,111.44 306.47,113.18 308.47,114.95 310.47,116.77 312.47,118.62 314.47,120.52 316.48,122.45 318.48,124.43 320.48,126.44 322.48,128.49 324.48,130.58 326.48,132.71 328.49,134.88 330.49,137.08 332.49,139.33 334.49,141.62 336.49,143.94 338.49,146.31 340.50,148.71 342.50,151.15 344.50,153.63 346.50,156.15" fill="none" stroke="#000" stroke-width="1.1" stroke-dasharray="4.5,3"/>
<polyline points="262.00,83.78 264.10,84.73 266.20,85.73 268.30,86.77 270.40,87.85 272.50,88.98 274.60,90.15 276.70,91.36 278.80,92.62 280.90,93.91 283.00,95.26 285.10,96.64 287.20,98.07 289.30,99.54 291.40,101.05 293.50,102.61 295.60,104.21 297.70,105.85 299.80,107.54 301.90,109.27 304.00,111.04 306.10,112.85 308.20,114.71 310.30,116.61 312.40,118.56 314.50,120.55 316.60,122.58 318.70,124.65 320.80,126.77 322.90,128.92 325.00,131.13 327.10,133.37 329.20,135.66 331.30,137.99 333.40,140.37 335.50,142.78 337.60,145.25 339.70,147.75 341.80,150.30 343.90,152.89 346.00,155.52" fill="none" stroke="#000" stroke-width="1.0"/>
<polyline points="338.00,173.50 339.55,174.72 341.10,175.97 342.65,177.22 344.20,178.49 345.75,179.77 347.30,181.07" fill="none" stroke="#ff0000" stroke-width="1.3"/>
<path d="M264.60,133.31L267.40,133.31L266.00,130.87Z" fill="none" stroke="#9a00d8" stroke-width="1.0"/>
<path d="M269.60,135.26L272.40,135.26L271.00,132.83Z" fill="none" stroke="#9a00d8" stroke-width="1.0"/>
<path d="M274.60,137.36L277.40,137.36L276.00,134.92Z" fill="none" stroke="#9a00d8" stroke-width="1.0"/>
<path d="M279.60,139.60L282.40,139.60L281.00,137.16Z" fill="none" stroke="#9a00d8" stroke-width="1.0"/>
<path d="M284.60,141.98L287.40,141.98L286.00,139.54Z" fill="none" stroke="#9a00d8" stroke-width="1.0"/>
<circle cx="249.30" cy="125.71" r="1.4" fill="none" stroke="#ff0000" stroke-width="1"/>
<circle cx="253.10" cy="126.81" r="1.4" fill="none" stroke="#ff0000" stroke-width="1"/>
<circle cx="256.90" cy="128.01" r="1.4" fill="none" stroke="#ff0000" stroke-width="1"/>
<circle cx="260.70" cy="129.28" r="1.4" fill="none" stroke="#ff0000" stroke-width="1"/>
<circle cx="264.50" cy="130.63" r="1.4" fill="none" stroke="#ff0000" stroke-width="1"/>
<circle cx="268.30" cy="132.07" r="1.4" fill="none" stroke="#ff0000" stroke-width="1"/>
<circle cx="272.10" cy="133.59" r="1.4" fill="none" stroke="#ff0000" stroke-width="1"/>
<rect x="244.60" y="123.71" width="2.8" height="2.8" fill="none" stroke="#00ff00" stroke-width="1"/>
<rect x="247.60" y="124.52" width="2.8" height="2.8" fill="none" stroke="#00ff00" stroke-width="1"/>
<rect x="250.60" y="125.39" width="2.8" height="2.8" fill="none" stroke="#00ff00" stroke-width="1"/>
<rect x="253.60" y="126.30" width="2.8" height="2.8" fill="none" stroke="#00ff00" stroke-width="1"/>
<rect x="256.60" y="127.27" width="2.8" height="2.8" fill="none" stroke="#00ff00" stroke-width="1"/>
<rect x="259.60" y="128.28" width="2.8" height="2.8" fill="none" stroke="#00ff00" stroke-width="1"/>
<rect x="262.60" y="129.35" width="2.8" height="2.8" fill="none" stroke="#00ff00" stroke-width="1"/>
<rect x="265.60" y="130.47" width="2.8" height="2.8" fill="none" stroke="#00ff00" stroke-width="1"/>
<rect x="268.60" y="131.64" width="2.8" height="2.8" fill="none" stroke="#00ff00" stroke-width="1"/>
<rect x="271.60" y="132.87" width="2.8" height="2.8" fill="none" stroke="#00ff00" stroke-width="1"/>
<rect x="274.60" y="134.14" width="2.8" height="2.8" fill="none" stroke="#00ff00" stroke-width="1"/>
<rect x="277.60" y="135.47" width="2.8" height="2.8" fill="none" stroke="#00ff00" stroke-width="1"/>
<rect x="280.60" y="136.84" width="2.8" height="2.8" fill="none" stroke="#00ff00" stroke-width="1"/>
<polyline points="247.00,125.38 248.85,125.88 250.70,126.41 252.55,126.95 254.40,127.51 256.25,128.10 258.10,128.70 259.95,129.32 261.80,129.96 263.65,130.62 265.50,131.31 267.35,132.01 269.20,132.73 271.05,133.47 272.90,134.22 274.75,135.00 276.60,135.80 278.45,136.62 280.30,137.46 282.15,138.31 284.00,139.19" fill="none" stroke="#00ff00" stroke-width="1.6"/>
<circle cx="286.00" cy="139.76" r="2.1" fill="#22ee22" stroke="#b050c0" stroke-width="0.4"/>
<circle cx="291.40" cy="142.49" r="2.1" fill="#22ee22" stroke="#b050c0" stroke-width="0.4"/>
<circle cx="296.80" cy="145.39" r="2.1" fill="#22ee22" stroke="#b050c0" stroke-width="0.4"/>
<circle cx="302.20" cy="148.46" r="2.1" fill="#22ee22" stroke="#b050c0" stroke-width="0.4"/>
<circle cx="307.60" cy="151.69" r="2.1" fill="#22ee22" stroke="#b050c0" stroke-width="0.4"/>
<circle cx="313.00" cy="155.09" r="2.1" fill="#22ee22" stroke="#b050c0" stroke-width="0.4"/>
<circle cx="318.40" cy="158.65" r="2.1" fill="#22ee22" stroke="#b050c0" stroke-width="0.4"/>
<circle cx="323.80" cy="162.39" r="2.1" fill="#22ee22" stroke="#b050c0" stroke-width="0.4"/>
<circle cx="329.20" cy="166.29" r="2.1" fill="#22ee22" stroke="#b050c0" stroke-width="0.4"/>
<circle cx="334.60" cy="170.35" r="2.1" fill="#22ee22" stroke="#b050c0" stroke-width="0.4"/>
<circle cx="340.00" cy="174.58" r="2.1" fill="#22ee22" stroke="#b050c0" stroke-width="0.4"/>
<circle cx="345.40" cy="178.98" r="2.1" fill="#22ee22" stroke="#b050c0" stroke-width="0.4"/>
<polyline points="226.40,120.17 228.40,120.49 230.40,120.82 232.41,121.18 234.41,121.56 236.41,121.96 238.41,122.39 240.41,122.84 242.41,123.31 244.41,123.80 246.42,124.32 248.42,124.86 250.42,125.42 252.42,126.01 254.42,126.62 256.43,127.25 258.43,127.91 260.43,128.58 262.43,129.29 264.43,130.01 266.43,130.76 268.44,131.53 270.44,132.32 272.44,133.13 274.44,133.97 276.44,134.83 278.44,135.72 280.44,136.62 282.45,137.55 284.45,138.51 286.45,139.48 288.45,140.48 290.45,141.50 292.45,142.55 294.46,143.61 296.46,144.70 298.46,145.82 300.46,146.95 302.46,148.11 304.47,149.29 306.47,150.50 308.47,151.72 310.47,152.98 312.47,154.25 314.47,155.54 316.48,156.86 318.48,158.21 320.48,159.57 322.48,160.96 324.48,162.37 326.48,163.80 328.49,165.26 330.49,166.74 332.49,168.24 334.49,169.77 336.49,171.31 338.49,172.89 340.50,174.48 342.50,176.10 344.50,177.74 346.50,179.40" fill="none" stroke="#000" stroke-width="1.1" stroke-dasharray="4.5,3"/>
<polyline points="262.00,129.13 264.10,129.89 266.20,130.67 268.30,131.47 270.40,132.30 272.50,133.16 274.60,134.04 276.70,134.95 278.80,135.88 280.90,136.83 283.00,137.81 285.10,138.82 287.20,139.85 289.30,140.91 291.40,141.99 293.50,143.10 295.60,144.23 297.70,145.39 299.80,146.57 301.90,147.78 304.00,149.02 306.10,150.28 308.20,151.56 310.30,152.87 312.40,154.20 314.50,155.56 316.60,156.95 318.70,158.36 320.80,159.79 322.90,161.25 325.00,162.74 327.10,164.25 329.20,165.79 331.30,167.35 333.40,168.93 335.50,170.54 337.60,172.18 339.70,173.84 341.80,175.53 343.90,177.24 346.00,178.98" fill="none" stroke="#000" stroke-width="1.0"/>
<polyline points="255.00,167.22 258.05,167.92 261.10,168.66 264.15,169.43 267.20,170.23 270.25,171.07 273.30,171.94 276.35,172.85 279.40,173.79 282.45,174.76 285.50,175.77 288.55,176.82 291.60,177.89 294.65,179.01 297.70,180.15 300.75,181.33 303.80,182.55 306.85,183.80 309.90,185.08 312.95,186.40 316.00,187.75 319.05,189.14 322.10,190.56 325.15,192.02 328.20,193.51 331.25,195.03 334.30,196.59 337.35,198.18 340.40,199.81 343.45,201.47 346.50,203.16" fill="none" stroke="#0000ff" stroke-width="0.9"/>
<polyline points="250.00,165.75 253.20,166.42 256.40,167.14 259.60,167.89 262.80,168.68 266.00,169.51 269.20,170.38 272.40,171.28 275.60,172.22 278.80,173.20 282.00,174.22 285.20,175.27 288.40,176.36 291.60,177.49 294.80,178.66 298.00,179.87 301.20,181.11 304.40,182.39 307.60,183.71 310.80,185.07 314.00,186.46 317.20,187.89 320.40,189.36 323.60,190.87 326.80,192.42 330.00,194.00 333.20,195.62 336.40,197.28 339.60,198.98 342.80,200.71 346.00,202.48" fill="none" stroke="#9a00d8" stroke-width="1.1"/>
<polyline points="250.00,165.15 253.22,165.83 256.43,166.55 259.65,167.30 262.87,168.10 266.08,168.93 269.30,169.80 272.52,170.71 275.73,171.66 278.95,172.65 282.17,173.67 285.38,174.73 288.60,175.83 291.82,176.97 295.03,178.15 298.25,179.36 301.47,180.62 304.68,181.91 307.90,183.24 311.12,184.60 314.33,186.01 317.55,187.45 320.77,188.93 323.98,190.45 327.20,192.01 330.42,193.61 333.63,195.24 336.85,196.92 340.07,198.63 343.28,200.38 346.50,202.16" fill="none" stroke="#ff0000" stroke-width="1.0"/>
<path d="M286.00,175.54L287.60,177.14L286.00,178.74L284.40,177.14Z" fill="none" stroke="#0000ff" stroke-width="1.1"/>
<path d="M289.60,176.78L291.20,178.38L289.60,179.98L288.00,178.38Z" fill="none" stroke="#0000ff" stroke-width="1.1"/>
<path d="M293.20,178.07L294.80,179.67L293.20,181.27L291.60,179.67Z" fill="none" stroke="#0000ff" stroke-width="1.1"/>
<path d="M296.80,179.41L298.40,181.01L296.80,182.61L295.20,181.01Z" fill="none" stroke="#0000ff" stroke-width="1.1"/>
<path d="M300.40,180.80L302.00,182.40L300.40,184.00L298.80,182.40Z" fill="none" stroke="#0000ff" stroke-width="1.1"/>
<path d="M304.00,182.23L305.60,183.83L304.00,185.43L302.40,183.83Z" fill="none" stroke="#0000ff" stroke-width="1.1"/>
<path d="M307.60,181.91L309.20,183.51L307.60,185.11L306.00,183.51Z" fill="none" stroke="#0000ff" stroke-width="1.1"/>
<path d="M311.20,183.44L312.80,185.04L311.20,186.64L309.60,185.04Z" fill="none" stroke="#0000ff" stroke-width="1.1"/>
<path d="M314.80,185.02L316.40,186.62L314.80,188.22L313.20,186.62Z" fill="none" stroke="#0000ff" stroke-width="1.1"/>
<path d="M318.40,186.64L320.00,188.24L318.40,189.84L316.80,188.24Z" fill="none" stroke="#0000ff" stroke-width="1.1"/>
<path d="M322.00,188.31L323.60,189.91L322.00,191.51L320.40,189.91Z" fill="none" stroke="#0000ff" stroke-width="1.1"/>
<path d="M325.60,190.03L327.20,191.63L325.60,193.23L324.00,191.63Z" fill="none" stroke="#0000ff" stroke-width="1.1"/>
<path d="M329.20,191.80L330.80,193.40L329.20,195.00L327.60,193.40Z" fill="none" stroke="#0000ff" stroke-width="1.1"/>
<path d="M332.80,193.62L334.40,195.22L332.80,196.82L331.20,195.22Z" fill="none" stroke="#0000ff" stroke-width="1.1"/>
<path d="M336.40,195.48L338.00,197.08L336.40,198.68L334.80,197.08Z" fill="none" stroke="#0000ff" stroke-width="1.1"/>
<path d="M340.00,197.39L341.60,198.99L340.00,200.59L338.40,198.99Z" fill="none" stroke="#0000ff" stroke-width="1.1"/>
<path d="M343.60,199.35L345.20,200.95L343.60,202.55L342.00,200.95Z" fill="none" stroke="#0000ff" stroke-width="1.1"/>
<path d="M266.60,172.66L269.40,172.66L268.00,170.23Z" fill="none" stroke="#9a00d8" stroke-width="1.0"/>
<path d="M270.20,173.67L273.00,173.67L271.60,171.23Z" fill="none" stroke="#9a00d8" stroke-width="1.0"/>
<path d="M273.80,174.72L276.60,174.72L275.20,172.28Z" fill="none" stroke="#9a00d8" stroke-width="1.0"/>
<path d="M277.40,175.82L280.20,175.82L278.80,173.38Z" fill="none" stroke="#9a00d8" stroke-width="1.0"/>
<path d="M281.00,176.96L283.80,176.96L282.40,174.53Z" fill="none" stroke="#9a00d8" stroke-width="1.0"/>
<path d="M284.60,178.16L287.40,178.16L286.00,175.72Z" fill="none" stroke="#9a00d8" stroke-width="1.0"/>
<circle cx="256.50" cy="168.36" r="1.5" fill="none" stroke="#ff0000" stroke-width="1"/>
<circle cx="259.90" cy="169.16" r="1.5" fill="none" stroke="#ff0000" stroke-width="1"/>
<circle cx="263.30" cy="170.01" r="1.5" fill="none" stroke="#ff0000" stroke-width="1"/>
<circle cx="266.70" cy="170.90" r="1.5" fill="none" stroke="#ff0000" stroke-width="1"/>
<circle cx="270.10" cy="171.83" r="1.5" fill="none" stroke="#ff0000" stroke-width="1"/>
<rect x="244.60" y="162.86" width="2.8" height="2.8" fill="none" stroke="#00ff00" stroke-width="1"/>
<rect x="247.30" y="163.38" width="2.8" height="2.8" fill="none" stroke="#00ff00" stroke-width="1"/>
<rect x="250.00" y="163.94" width="2.8" height="2.8" fill="none" stroke="#00ff00" stroke-width="1"/>
<rect x="252.70" y="164.52" width="2.8" height="2.8" fill="none" stroke="#00ff00" stroke-width="1"/>
<rect x="255.40" y="165.13" width="2.8" height="2.8" fill="none" stroke="#00ff00" stroke-width="1"/>
<rect x="258.10" y="165.77" width="2.8" height="2.8" fill="none" stroke="#00ff00" stroke-width="1"/>
<rect x="260.80" y="166.43" width="2.8" height="2.8" fill="none" stroke="#00ff00" stroke-width="1"/>
<rect x="263.50" y="167.12" width="2.8" height="2.8" fill="none" stroke="#00ff00" stroke-width="1"/>
<rect x="266.20" y="167.84" width="2.8" height="2.8" fill="none" stroke="#00ff00" stroke-width="1"/>
<rect x="268.90" y="168.58" width="2.8" height="2.8" fill="none" stroke="#00ff00" stroke-width="1"/>
<rect x="271.60" y="169.35" width="2.8" height="2.8" fill="none" stroke="#00ff00" stroke-width="1"/>
<rect x="274.30" y="170.15" width="2.8" height="2.8" fill="none" stroke="#00ff00" stroke-width="1"/>
<rect x="277.00" y="170.97" width="2.8" height="2.8" fill="none" stroke="#00ff00" stroke-width="1"/>
<rect x="279.70" y="171.83" width="2.8" height="2.8" fill="none" stroke="#00ff00" stroke-width="1"/>
<rect x="282.40" y="172.70" width="2.8" height="2.8" fill="none" stroke="#00ff00" stroke-width="1"/>
<rect x="285.10" y="173.61" width="2.8" height="2.8" fill="none" stroke="#00ff00" stroke-width="1"/>
<rect x="287.80" y="174.54" width="2.8" height="2.8" fill="none" stroke="#00ff00" stroke-width="1"/>
<polyline points="290.00,176.22 291.88,176.89 293.77,177.58 295.65,178.28 297.53,178.99 299.42,179.71 301.30,180.45 303.18,181.20 305.07,181.96 306.95,182.74 308.83,183.53 310.72,184.33 312.60,185.15 314.48,185.98 316.37,186.82 318.25,187.67 320.13,188.54 322.02,189.42 323.90,190.32 325.78,191.22 327.67,192.14 329.55,193.08 331.43,194.02 333.32,194.98 335.20,195.95 337.08,196.94 338.97,197.94 340.85,198.95 342.73,199.98 344.62,201.01 346.50,202.06" fill="none" stroke="#00ff00" stroke-width="1.9"/>
<circle cx="292.00" cy="176.54" r="1.45" fill="#22ee22" stroke="#b050c0" stroke-width="0.4"/>
<circle cx="296.40" cy="178.16" r="1.45" fill="#22ee22" stroke="#b050c0" stroke-width="0.4"/>
<circle cx="300.80" cy="179.85" r="1.45" fill="#22ee22" stroke="#b050c0" stroke-width="0.4"/>
<circle cx="305.20" cy="181.62" r="1.45" fill="#22ee22" stroke="#b050c0" stroke-width="0.4"/>
<circle cx="309.60" cy="183.45" r="1.45" fill="#22ee22" stroke="#b050c0" stroke-width="0.4"/>
<circle cx="314.00" cy="185.36" r="1.45" fill="#22ee22" stroke="#b050c0" stroke-width="0.4"/>
<circle cx="318.40" cy="187.34" r="1.45" fill="#22ee22" stroke="#b050c0" stroke-width="0.4"/>
<circle cx="322.80" cy="189.39" r="1.45" fill="#22ee22" stroke="#b050c0" stroke-width="0.4"/>
<circle cx="327.20" cy="191.51" r="1.45" fill="#22ee22" stroke="#b050c0" stroke-width="0.4"/>
<circle cx="331.60" cy="193.71" r="1.45" fill="#22ee22" stroke="#b050c0" stroke-width="0.4"/>
<circle cx="336.00" cy="195.97" r="1.45" fill="#22ee22" stroke="#b050c0" stroke-width="0.4"/>
<circle cx="340.40" cy="198.31" r="1.45" fill="#22ee22" stroke="#b050c0" stroke-width="0.4"/>
<circle cx="344.80" cy="200.72" r="1.45" fill="#22ee22" stroke="#b050c0" stroke-width="0.4"/>
<polyline points="226.40,160.32 228.40,160.57 230.40,160.83 232.41,161.10 234.41,161.39 236.41,161.69 238.41,162.01 240.41,162.35 242.41,162.69 244.41,163.06 246.42,163.44 248.42,163.83 250.42,164.23 252.42,164.66 254.42,165.09 256.43,165.55 258.43,166.01 260.43,166.49 262.43,166.99 264.43,167.50 266.43,168.02 268.44,168.57 270.44,169.12 272.44,169.69 274.44,170.27 276.44,170.87 278.44,171.49 280.44,172.12 282.45,172.76 284.45,173.42 286.45,174.09 288.45,174.78 290.45,175.48 292.45,176.20 294.46,176.93 296.46,177.68 298.46,178.44 300.46,179.22 302.46,180.01 304.47,180.82 306.47,181.64 308.47,182.47 310.47,183.33 312.47,184.19 314.47,185.07 316.48,185.97 318.48,186.88 320.48,187.80 322.48,188.74 324.48,189.69 326.48,190.66 328.49,191.65 330.49,192.64 332.49,193.66 334.49,194.69 336.49,195.73 338.49,196.79 340.50,197.86 342.50,198.95 344.50,200.05 346.50,201.16" fill="none" stroke="#000" stroke-width="1.1" stroke-dasharray="4.5,3"/>
<polyline points="343.00,200.42 343.94,200.94 344.88,201.46 345.82,201.98 346.76,202.51 347.70,203.04" fill="none" stroke="#0000ff" stroke-width="1.4"/>
<polyline points="255.00,196.52 258.05,197.11 261.10,197.72 264.15,198.36 267.20,199.01 270.25,199.68 273.30,200.37 276.35,201.09 279.40,201.82 282.45,202.57 285.50,203.35 288.55,204.14 291.60,204.95 294.65,205.78 297.70,206.64 300.75,207.51 303.80,208.40 306.85,209.31 309.90,210.25 312.95,211.20 316.00,212.17 319.05,213.17 322.10,214.18 325.15,215.21 328.20,216.26 331.25,217.34 334.30,218.43 337.35,219.54 340.40,220.67 343.45,221.83 346.50,223.00" fill="none" stroke="#0000ff" stroke-width="0.9"/>
<polyline points="250.00,195.19 253.20,195.78 256.40,196.39 259.60,197.02 262.80,197.67 266.00,198.35 269.20,199.05 272.40,199.77 275.60,200.51 278.80,201.27 282.00,202.06 285.20,202.87 288.40,203.70 291.60,204.55 294.80,205.43 298.00,206.32 301.20,207.24 304.40,208.18 307.60,209.14 310.80,210.13 314.00,211.13 317.20,212.16 320.40,213.21 323.60,214.28 326.80,215.38 330.00,216.49 333.20,217.63 336.40,218.79 339.60,219.98 342.80,221.18 346.00,222.41" fill="none" stroke="#9a00d8" stroke-width="1.1"/>
<polyline points="250.00,194.59 253.22,195.18 256.43,195.79 259.65,196.43 262.87,197.09 266.08,197.77 269.30,198.47 272.52,199.19 275.73,199.94 278.95,200.71 282.17,201.50 285.38,202.32 288.60,203.15 291.82,204.01 295.03,204.89 298.25,205.79 301.47,206.72 304.68,207.66 307.90,208.63 311.12,209.63 314.33,210.64 317.55,211.68 320.77,212.73 323.98,213.81 327.20,214.92 330.42,216.04 333.63,217.19 336.85,218.36 340.07,219.55 343.28,220.76 346.50,222.00" fill="none" stroke="#ff0000" stroke-width="1.0"/>
<path d="M291.00,204.39L292.60,205.99L291.00,207.59L289.40,205.99Z" fill="none" stroke="#0000ff" stroke-width="1.1"/>
<path d="M294.60,205.37L296.20,206.97L294.60,208.57L293.00,206.97Z" fill="none" stroke="#0000ff" stroke-width="1.1"/>
<path d="M298.20,206.38L299.80,207.98L298.20,209.58L296.60,207.98Z" fill="none" stroke="#0000ff" stroke-width="1.1"/>
<path d="M301.80,207.41L303.40,209.01L301.80,210.61L300.20,209.01Z" fill="none" stroke="#0000ff" stroke-width="1.1"/>
<path d="M305.40,208.48L307.00,210.08L305.40,211.68L303.80,210.08Z" fill="none" stroke="#0000ff" stroke-width="1.1"/>
<path d="M309.00,209.57L310.60,211.17L309.00,212.77L307.40,211.17Z" fill="none" stroke="#0000ff" stroke-width="1.1"/>
<path d="M312.60,208.89L314.20,210.49L312.60,212.09L311.00,210.49Z" fill="none" stroke="#0000ff" stroke-width="1.1"/>
<path d="M316.20,210.04L317.80,211.64L316.20,213.24L314.60,211.64Z" fill="none" stroke="#0000ff" stroke-width="1.1"/>
<path d="M319.80,211.21L321.40,212.81L319.80,214.41L318.20,212.81Z" fill="none" stroke="#0000ff" stroke-width="1.1"/>
<path d="M323.40,212.42L325.00,214.02L323.40,215.62L321.80,214.02Z" fill="none" stroke="#0000ff" stroke-width="1.1"/>
<path d="M327.00,213.65L328.60,215.25L327.00,216.85L325.40,215.25Z" fill="none" stroke="#0000ff" stroke-width="1.1"/>
<path d="M330.60,214.91L332.20,216.51L330.60,218.11L329.00,216.51Z" fill="none" stroke="#0000ff" stroke-width="1.1"/>
<path d="M334.20,216.19L335.80,217.79L334.20,219.39L332.60,217.79Z" fill="none" stroke="#0000ff" stroke-width="1.1"/>
<path d="M337.80,217.51L339.40,219.11L337.80,220.71L336.20,219.11Z" fill="none" stroke="#0000ff" stroke-width="1.1"/>
<path d="M341.40,218.85L343.00,220.45L341.40,222.05L339.80,220.45Z" fill="none" stroke="#0000ff" stroke-width="1.1"/>
<path d="M345.00,220.22L346.60,221.82L345.00,223.42L343.40,221.82Z" fill="none" stroke="#0000ff" stroke-width="1.1"/>
<path d="M266.60,201.40L269.40,201.40L268.00,198.97Z" fill="none" stroke="#9a00d8" stroke-width="1.0"/>
<path d="M270.20,202.20L273.00,202.20L271.60,199.77Z" fill="none" stroke="#9a00d8" stroke-width="1.0"/>
<path d="M273.80,203.03L276.60,203.03L275.20,200.60Z" fill="none" stroke="#9a00d8" stroke-width="1.0"/>
<path d="M277.40,203.89L280.20,203.89L278.80,201.46Z" fill="none" stroke="#9a00d8" stroke-width="1.0"/>
<path d="M281.00,204.78L283.80,204.78L282.40,202.34Z" fill="none" stroke="#9a00d8" stroke-width="1.0"/>
<path d="M284.60,205.69L287.40,205.69L286.00,203.26Z" fill="none" stroke="#9a00d8" stroke-width="1.0"/>
<circle cx="256.50" cy="197.61" r="1.5" fill="none" stroke="#ff0000" stroke-width="1"/>
<circle cx="259.90" cy="198.28" r="1.5" fill="none" stroke="#ff0000" stroke-width="1"/>
<circle cx="263.30" cy="198.98" r="1.5" fill="none" stroke="#ff0000" stroke-width="1"/>
<circle cx="266.70" cy="199.70" r="1.5" fill="none" stroke="#ff0000" stroke-width="1"/>
<circle cx="270.10" cy="200.45" r="1.5" fill="none" stroke="#ff0000" stroke-width="1"/>
<rect x="244.60" y="192.38" width="2.8" height="2.8" fill="none" stroke="#00ff00" stroke-width="1"/>
<rect x="247.30" y="192.86" width="2.8" height="2.8" fill="none" stroke="#00ff00" stroke-width="1"/>
<rect x="250.00" y="193.34" width="2.8" height="2.8" fill="none" stroke="#00ff00" stroke-width="1"/>
<rect x="252.70" y="193.85" width="2.8" height="2.8" fill="none" stroke="#00ff00" stroke-width="1"/>
<rect x="255.40" y="194.36" width="2.8" height="2.8" fill="none" stroke="#00ff00" stroke-width="1"/>
<rect x="258.10" y="194.90" width="2.8" height="2.8" fill="none" stroke="#00ff00" stroke-width="1"/>
<rect x="260.80" y="195.45" width="2.8" height="2.8" fill="none" stroke="#00ff00" stroke-width="1"/>
<rect x="263.50" y="196.01" width="2.8" height="2.8" fill="none" stroke="#00ff00" stroke-width="1"/>
<rect x="266.20" y="196.60" width="2.8" height="2.8" fill="none" stroke="#00ff00" stroke-width="1"/>
<rect x="268.90" y="197.19" width="2.8" height="2.8" fill="none" stroke="#00ff00" stroke-width="1"/>
<rect x="271.60" y="197.81" width="2.8" height="2.8" fill="none" stroke="#00ff00" stroke-width="1"/>
<rect x="274.30" y="198.43" width="2.8" height="2.8" fill="none" stroke="#00ff00" stroke-width="1"/>
<rect x="277.00" y="199.08" width="2.8" height="2.8" fill="none" stroke="#00ff00" stroke-width="1"/>
<rect x="279.70" y="199.74" width="2.8" height="2.8" fill="none" stroke="#00ff00" stroke-width="1"/>
<rect x="282.40" y="200.41" width="2.8" height="2.8" fill="none" stroke="#00ff00" stroke-width="1"/>
<rect x="285.10" y="201.10" width="2.8" height="2.8" fill="none" stroke="#00ff00" stroke-width="1"/>
<rect x="287.80" y="201.81" width="2.8" height="2.8" fill="none" stroke="#00ff00" stroke-width="1"/>
<polyline points="290.00,203.42 291.88,203.93 293.77,204.44 295.65,204.96 297.53,205.49 299.42,206.03 301.30,206.57 303.18,207.12 305.07,207.68 306.95,208.25 308.83,208.82 310.72,209.40 312.60,209.99 314.48,210.59 316.37,211.19 318.25,211.80 320.13,212.42 322.02,213.05 323.90,213.69 325.78,214.33 327.67,214.98 329.55,215.64 331.43,216.30 333.32,216.97 335.20,217.66 337.08,218.34 338.97,219.04 340.85,219.74 342.73,220.45 344.62,221.17 346.50,221.90" fill="none" stroke="#00ff00" stroke-width="1.9"/>
<circle cx="292.00" cy="203.56" r="1.45" fill="#22ee22" stroke="#b050c0" stroke-width="0.4"/>
<circle cx="296.40" cy="204.77" r="1.45" fill="#22ee22" stroke="#b050c0" stroke-width="0.4"/>
<circle cx="300.80" cy="206.02" r="1.45" fill="#22ee22" stroke="#b050c0" stroke-width="0.4"/>
<circle cx="305.20" cy="207.32" r="1.45" fill="#22ee22" stroke="#b050c0" stroke-width="0.4"/>
<circle cx="309.60" cy="208.65" r="1.45" fill="#22ee22" stroke="#b050c0" stroke-width="0.4"/>
<circle cx="314.00" cy="210.03" r="1.45" fill="#22ee22" stroke="#b050c0" stroke-width="0.4"/>
<circle cx="318.40" cy="211.45" r="1.45" fill="#22ee22" stroke="#b050c0" stroke-width="0.4"/>
<circle cx="322.80" cy="212.91" r="1.45" fill="#22ee22" stroke="#b050c0" stroke-width="0.4"/>
<circle cx="327.20" cy="214.42" r="1.45" fill="#22ee22" stroke="#b050c0" stroke-width="0.4"/>
<circle cx="331.60" cy="215.96" r="1.45" fill="#22ee22" stroke="#b050c0" stroke-width="0.4"/>
<circle cx="336.00" cy="217.55" r="1.45" fill="#22ee22" stroke="#b050c0" stroke-width="0.4"/>
<circle cx="340.40" cy="219.17" r="1.45" fill="#22ee22" stroke="#b050c0" stroke-width="0.4"/>
<circle cx="344.80" cy="220.84" r="1.45" fill="#22ee22" stroke="#b050c0" stroke-width="0.4"/>
<polyline points="226.40,189.93 228.40,190.19 230.40,190.47 232.41,190.75 234.41,191.04 236.41,191.34 238.41,191.64 240.41,191.96 242.41,192.28 244.41,192.61 246.42,192.96 248.42,193.31 250.42,193.66 252.42,194.03 254.42,194.41 256.43,194.79 258.43,195.18 260.43,195.59 262.43,196.00 264.43,196.42 266.43,196.84 268.44,197.28 270.44,197.72 272.44,198.18 274.44,198.64 276.44,199.11 278.44,199.59 280.44,200.08 282.45,200.57 284.45,201.08 286.45,201.59 288.45,202.11 290.45,202.64 292.45,203.18 294.46,203.73 296.46,204.29 298.46,204.85 300.46,205.43 302.46,206.01 304.47,206.60 306.47,207.20 308.47,207.81 310.47,208.42 312.47,209.05 314.47,209.68 316.48,210.33 318.48,210.98 320.48,211.64 322.48,212.31 324.48,212.98 326.48,213.67 328.49,214.36 330.49,215.07 332.49,215.78 334.49,216.50 336.49,217.23 338.49,217.96 340.50,218.71 342.50,219.46 344.50,220.23 346.50,221.00" fill="none" stroke="#000" stroke-width="1.1" stroke-dasharray="4.5,3"/>
<polyline points="343.00,220.86 343.94,221.21 344.88,221.57 345.82,221.94 346.76,222.30 347.70,222.67" fill="none" stroke="#9a00d8" stroke-width="1.4"/>
<polyline points="305.00,208.86 307.07,209.48 309.15,210.12 311.23,210.76 313.30,211.41 315.38,212.07 317.45,212.74 319.52,213.42 321.60,214.11 323.68,214.81 325.75,215.52 327.82,216.23 329.90,216.96 331.98,217.69 334.05,218.44 336.12,219.19 338.20,219.96 340.27,220.73 342.35,221.51 344.43,222.30 346.50,223.10" fill="none" stroke="#9a00d8" stroke-width="1.0"/>
<polyline points="255.00,217.58 258.05,218.07 261.10,218.57 264.15,219.09 267.20,219.63 270.25,220.19 273.30,220.77 276.35,221.36 279.40,221.97 282.45,222.59 285.50,223.23 288.55,223.89 291.60,224.57 294.65,225.26 297.70,225.98 300.75,226.70 303.80,227.45 306.85,228.21 309.90,228.99 312.95,229.79 316.00,230.60 319.05,231.44 322.10,232.28 325.15,233.15 328.20,234.03 331.25,234.93 334.30,235.85 337.35,236.78 340.40,237.74 343.45,238.71 346.50,239.69" fill="none" stroke="#0000ff" stroke-width="0.9"/>
<polyline points="250.00,216.42 253.20,216.90 256.40,217.40 259.60,217.92 262.80,218.46 266.00,219.02 269.20,219.60 272.40,220.19 275.60,220.81 278.80,221.44 282.00,222.10 285.20,222.77 288.40,223.46 291.60,224.17 294.80,224.90 298.00,225.65 301.20,226.41 304.40,227.20 307.60,228.00 310.80,228.83 314.00,229.67 317.20,230.53 320.40,231.41 323.60,232.31 326.80,233.23 330.00,234.16 333.20,235.12 336.40,236.09 339.60,237.09 342.80,238.10 346.00,239.13" fill="none" stroke="#9a00d8" stroke-width="1.1"/>
<polyline points="250.00,215.82 253.22,216.30 256.43,216.81 259.65,217.33 262.87,217.87 266.08,218.44 269.30,219.02 272.52,219.62 275.73,220.24 278.95,220.87 282.17,221.53 285.38,222.21 288.60,222.90 291.82,223.62 295.03,224.35 298.25,225.11 301.47,225.88 304.68,226.67 307.90,227.48 311.12,228.31 314.33,229.16 317.55,230.02 320.77,230.91 323.98,231.82 327.20,232.74 330.42,233.69 333.63,234.65 336.85,235.63 340.07,236.63 343.28,237.65 346.50,238.69" fill="none" stroke="#ff0000" stroke-width="1.0"/>
<path d="M299.00,225.88L300.60,227.48L299.00,229.08L297.40,227.48Z" fill="none" stroke="#0000ff" stroke-width="1.1"/>
<path d="M302.60,226.75L304.20,228.35L302.60,229.95L301.00,228.35Z" fill="none" stroke="#0000ff" stroke-width="1.1"/>
<path d="M306.20,227.65L307.80,229.25L306.20,230.85L304.60,229.25Z" fill="none" stroke="#0000ff" stroke-width="1.1"/>
<path d="M309.80,228.57L311.40,230.17L309.80,231.77L308.20,230.17Z" fill="none" stroke="#0000ff" stroke-width="1.1"/>
<path d="M313.40,229.51L315.00,231.11L313.40,232.71L311.80,231.11Z" fill="none" stroke="#0000ff" stroke-width="1.1"/>
<path d="M317.00,230.47L318.60,232.07L317.00,233.67L315.40,232.07Z" fill="none" stroke="#0000ff" stroke-width="1.1"/>
<path d="M320.60,229.66L322.20,231.26L320.60,232.86L319.00,231.26Z" fill="none" stroke="#0000ff" stroke-width="1.1"/>
<path d="M324.20,230.68L325.80,232.28L324.20,233.88L322.60,232.28Z" fill="none" stroke="#0000ff" stroke-width="1.1"/>
<path d="M327.80,231.72L329.40,233.32L327.80,234.92L326.20,233.32Z" fill="none" stroke="#0000ff" stroke-width="1.1"/>
<path d="M331.40,232.78L333.00,234.38L331.40,235.98L329.80,234.38Z" fill="none" stroke="#0000ff" stroke-width="1.1"/>
<path d="M335.00,233.86L336.60,235.46L335.00,237.06L333.40,235.46Z" fill="none" stroke="#0000ff" stroke-width="1.1"/>
<path d="M338.60,234.97L340.20,236.57L338.60,238.17L337.00,236.57Z" fill="none" stroke="#0000ff" stroke-width="1.1"/>
<path d="M342.20,236.11L343.80,237.71L342.20,239.31L340.60,237.71Z" fill="none" stroke="#0000ff" stroke-width="1.1"/>
<path d="M266.60,222.00L269.40,222.00L268.00,219.56Z" fill="none" stroke="#9a00d8" stroke-width="1.0"/>
<path d="M270.20,222.66L273.00,222.66L271.60,220.23Z" fill="none" stroke="#9a00d8" stroke-width="1.0"/>
<path d="M273.80,223.35L276.60,223.35L275.20,220.91Z" fill="none" stroke="#9a00d8" stroke-width="1.0"/>
<path d="M277.40,224.06L280.20,224.06L278.80,221.63Z" fill="none" stroke="#9a00d8" stroke-width="1.0"/>
<path d="M281.00,224.80L283.80,224.80L282.40,222.36Z" fill="none" stroke="#9a00d8" stroke-width="1.0"/>
<path d="M284.60,225.56L287.40,225.56L286.00,223.12Z" fill="none" stroke="#9a00d8" stroke-width="1.0"/>
<circle cx="256.50" cy="218.62" r="1.5" fill="none" stroke="#ff0000" stroke-width="1"/>
<circle cx="259.90" cy="219.17" r="1.5" fill="none" stroke="#ff0000" stroke-width="1"/>
<circle cx="263.30" cy="219.75" r="1.5" fill="none" stroke="#ff0000" stroke-width="1"/>
<circle cx="266.70" cy="220.34" r="1.5" fill="none" stroke="#ff0000" stroke-width="1"/>
<circle cx="270.10" cy="220.96" r="1.5" fill="none" stroke="#ff0000" stroke-width="1"/>
<rect x="244.60" y="213.74" width="2.8" height="2.8" fill="none" stroke="#00ff00" stroke-width="1"/>
<rect x="247.30" y="214.12" width="2.8" height="2.8" fill="none" stroke="#00ff00" stroke-width="1"/>
<rect x="250.00" y="214.52" width="2.8" height="2.8" fill="none" stroke="#00ff00" stroke-width="1"/>
<rect x="252.70" y="214.94" width="2.8" height="2.8" fill="none" stroke="#00ff00" stroke-width="1"/>
<rect x="255.40" y="215.36" width="2.8" height="2.8" fill="none" stroke="#00ff00" stroke-width="1"/>
<rect x="258.10" y="215.81" width="2.8" height="2.8" fill="none" stroke="#00ff00" stroke-width="1"/>
<rect x="260.80" y="216.26" width="2.8" height="2.8" fill="none" stroke="#00ff00" stroke-width="1"/>
<rect x="263.50" y="216.73" width="2.8" height="2.8" fill="none" stroke="#00ff00" stroke-width="1"/>
<rect x="266.20" y="217.21" width="2.8" height="2.8" fill="none" stroke="#00ff00" stroke-width="1"/>
<rect x="268.90" y="217.70" width="2.8" height="2.8" fill="none" stroke="#00ff00" stroke-width="1"/>
<rect x="271.60" y="218.21" width="2.8" height="2.8" fill="none" stroke="#00ff00" stroke-width="1"/>
<rect x="274.30" y="218.73" width="2.8" height="2.8" fill="none" stroke="#00ff00" stroke-width="1"/>
<rect x="277.00" y="219.26" width="2.8" height="2.8" fill="none" stroke="#00ff00" stroke-width="1"/>
<rect x="279.70" y="219.81" width="2.8" height="2.8" fill="none" stroke="#00ff00" stroke-width="1"/>
<rect x="282.40" y="220.37" width="2.8" height="2.8" fill="none" stroke="#00ff00" stroke-width="1"/>
<rect x="285.10" y="220.95" width="2.8" height="2.8" fill="none" stroke="#00ff00" stroke-width="1"/>
<rect x="287.80" y="221.54" width="2.8" height="2.8" fill="none" stroke="#00ff00" stroke-width="1"/>
<polyline points="290.00,223.11 291.88,223.53 293.77,223.96 295.65,224.40 297.53,224.84 299.42,225.28 301.30,225.74 303.18,226.20 305.07,226.66 306.95,227.14 308.83,227.62 310.72,228.10 312.60,228.60 314.48,229.10 316.37,229.60 318.25,230.12 320.13,230.64 322.02,231.16 323.90,231.69 325.78,232.23 327.67,232.78 329.55,233.33 331.43,233.89 333.32,234.45 335.20,235.02 337.08,235.60 338.97,236.19 340.85,236.78 342.73,237.38 344.62,237.98 346.50,238.59" fill="none" stroke="#00ff00" stroke-width="1.9"/>
<circle cx="292.00" cy="223.16" r="1.45" fill="#22ee22" stroke="#b050c0" stroke-width="0.4"/>
<circle cx="296.40" cy="224.17" r="1.45" fill="#22ee22" stroke="#b050c0" stroke-width="0.4"/>
<circle cx="300.80" cy="225.22" r="1.45" fill="#22ee22" stroke="#b050c0" stroke-width="0.4"/>
<circle cx="305.20" cy="226.30" r="1.45" fill="#22ee22" stroke="#b050c0" stroke-width="0.4"/>
<circle cx="309.60" cy="227.42" r="1.45" fill="#22ee22" stroke="#b050c0" stroke-width="0.4"/>
<circle cx="314.00" cy="228.57" r="1.45" fill="#22ee22" stroke="#b050c0" stroke-width="0.4"/>
<circle cx="318.40" cy="229.76" r="1.45" fill="#22ee22" stroke="#b050c0" stroke-width="0.4"/>
<circle cx="322.80" cy="230.98" r="1.45" fill="#22ee22" stroke="#b050c0" stroke-width="0.4"/>
<circle cx="327.20" cy="232.24" r="1.45" fill="#22ee22" stroke="#b050c0" stroke-width="0.4"/>
<circle cx="331.60" cy="233.54" r="1.45" fill="#22ee22" stroke="#b050c0" stroke-width="0.4"/>
<circle cx="336.00" cy="234.87" r="1.45" fill="#22ee22" stroke="#b050c0" stroke-width="0.4"/>
<circle cx="340.40" cy="236.24" r="1.45" fill="#22ee22" stroke="#b050c0" stroke-width="0.4"/>
<circle cx="344.80" cy="237.64" r="1.45" fill="#22ee22" stroke="#b050c0" stroke-width="0.4"/>
<polyline points="226.40,211.84 228.40,212.05 230.40,212.27 232.41,212.50 234.41,212.73 236.41,212.97 238.41,213.22 240.41,213.48 242.41,213.75 244.41,214.02 246.42,214.30 248.42,214.58 250.42,214.88 252.42,215.18 254.42,215.49 256.43,215.80 258.43,216.13 260.43,216.46 262.43,216.80 264.43,217.14 266.43,217.50 268.44,217.86 270.44,218.23 272.44,218.60 274.44,218.98 276.44,219.37 278.44,219.77 280.44,220.18 282.45,220.59 284.45,221.01 286.45,221.44 288.45,221.87 290.45,222.31 292.45,222.76 294.46,223.22 296.46,223.68 298.46,224.16 300.46,224.63 302.46,225.12 304.47,225.61 306.47,226.12 308.47,226.62 310.47,227.14 312.47,227.66 314.47,228.19 316.48,228.73 318.48,229.28 320.48,229.83 322.48,230.39 324.48,230.96 326.48,231.53 328.49,232.12 330.49,232.71 332.49,233.30 334.49,233.91 336.49,234.52 338.49,235.14 340.50,235.77 342.50,236.40 344.50,237.04 346.50,237.69" fill="none" stroke="#000" stroke-width="1.1" stroke-dasharray="4.5,3"/>
<polyline points="343.00,237.76 343.94,238.06 344.88,238.37 345.82,238.67 346.76,238.98 347.70,239.28" fill="none" stroke="#0000ff" stroke-width="1.4"/>
<polyline points="305.00,227.85 307.07,228.37 309.15,228.90 311.23,229.44 313.30,229.98 315.38,230.54 317.45,231.10 319.52,231.67 321.60,232.24 323.68,232.83 325.75,233.42 327.82,234.02 329.90,234.63 331.98,235.25 334.05,235.87 336.12,236.51 338.20,237.15 340.27,237.80 342.35,238.45 344.43,239.12 346.50,239.79" fill="none" stroke="#0000ff" stroke-width="1.0"/>
<polyline points="255.00,231.20 258.05,231.68 261.10,232.18 264.15,232.69 267.20,233.21 270.25,233.75 273.30,234.30 276.35,234.86 279.40,235.44 282.45,236.03 285.50,236.63 288.55,237.25 291.60,237.88 294.65,238.52 297.70,239.18 300.75,239.84 303.80,240.53 306.85,241.22 309.90,241.93 312.95,242.65 316.00,243.39 319.05,244.13 322.10,244.90 325.15,245.67 328.20,246.46 331.25,247.26 334.30,248.07 337.35,248.90 340.40,249.74 343.45,250.60 346.50,251.46" fill="none" stroke="#0000ff" stroke-width="0.9"/>
<polyline points="250.00,230.04 253.20,230.52 256.40,231.02 259.60,231.54 262.80,232.06 266.00,232.61 269.20,233.17 272.40,233.74 275.60,234.32 278.80,234.93 282.00,235.54 285.20,236.17 288.40,236.82 291.60,237.48 294.80,238.15 298.00,238.84 301.20,239.54 304.40,240.26 307.60,240.99 310.80,241.74 314.00,242.50 317.20,243.28 320.40,244.07 323.60,244.88 326.80,245.70 330.00,246.53 333.20,247.38 336.40,248.24 339.60,249.12 342.80,250.01 346.00,250.92" fill="none" stroke="#9a00d8" stroke-width="1.1"/>
<polyline points="250.00,229.44 253.22,229.92 256.43,230.43 259.65,230.94 262.87,231.48 266.08,232.02 269.30,232.58 272.52,233.16 275.73,233.75 278.95,234.35 282.17,234.97 285.38,235.61 288.60,236.26 291.82,236.92 295.03,237.60 298.25,238.30 301.47,239.00 304.68,239.73 307.90,240.46 311.12,241.22 314.33,241.98 317.55,242.77 320.77,243.56 323.98,244.37 327.20,245.20 330.42,246.04 333.63,246.90 336.85,247.77 340.07,248.65 343.28,249.55 346.50,250.46" fill="none" stroke="#ff0000" stroke-width="1.0"/>
<path d="M301.00,239.50L302.60,241.10L301.00,242.70L299.40,241.10Z" fill="none" stroke="#0000ff" stroke-width="1.1"/>
<path d="M304.60,240.31L306.20,241.91L304.60,243.51L303.00,241.91Z" fill="none" stroke="#0000ff" stroke-width="1.1"/>
<path d="M308.20,241.13L309.80,242.73L308.20,244.33L306.60,242.73Z" fill="none" stroke="#0000ff" stroke-width="1.1"/>
<path d="M311.80,241.98L313.40,243.58L311.80,245.18L310.20,243.58Z" fill="none" stroke="#0000ff" stroke-width="1.1"/>
<path d="M315.40,242.84L317.00,244.44L315.40,246.04L313.80,244.44Z" fill="none" stroke="#0000ff" stroke-width="1.1"/>
<path d="M319.00,243.72L320.60,245.32L319.00,246.92L317.40,245.32Z" fill="none" stroke="#0000ff" stroke-width="1.1"/>
<path d="M322.60,242.82L324.20,244.42L322.60,246.02L321.00,244.42Z" fill="none" stroke="#0000ff" stroke-width="1.1"/>
<path d="M326.20,243.74L327.80,245.34L326.20,246.94L324.60,245.34Z" fill="none" stroke="#0000ff" stroke-width="1.1"/>
<path d="M329.80,244.68L331.40,246.28L329.80,247.88L328.20,246.28Z" fill="none" stroke="#0000ff" stroke-width="1.1"/>
<path d="M333.40,245.63L335.00,247.23L333.40,248.83L331.80,247.23Z" fill="none" stroke="#0000ff" stroke-width="1.1"/>
<path d="M337.00,246.61L338.60,248.21L337.00,249.81L335.40,248.21Z" fill="none" stroke="#0000ff" stroke-width="1.1"/>
<path d="M340.60,247.60L342.20,249.20L340.60,250.80L339.00,249.20Z" fill="none" stroke="#0000ff" stroke-width="1.1"/>
<path d="M344.20,248.61L345.80,250.21L344.20,251.81L342.60,250.21Z" fill="none" stroke="#0000ff" stroke-width="1.1"/>
<path d="M266.60,235.57L269.40,235.57L268.00,233.14Z" fill="none" stroke="#9a00d8" stroke-width="1.0"/>
<path d="M270.20,236.21L273.00,236.21L271.60,233.78Z" fill="none" stroke="#9a00d8" stroke-width="1.0"/>
<path d="M273.80,236.87L276.60,236.87L275.20,234.43Z" fill="none" stroke="#9a00d8" stroke-width="1.0"/>
<path d="M277.40,237.54L280.20,237.54L278.80,235.11Z" fill="none" stroke="#9a00d8" stroke-width="1.0"/>
<path d="M281.00,238.24L283.80,238.24L282.40,235.80Z" fill="none" stroke="#9a00d8" stroke-width="1.0"/>
<path d="M284.60,238.95L287.40,238.95L286.00,236.51Z" fill="none" stroke="#9a00d8" stroke-width="1.0"/>
<circle cx="256.50" cy="232.24" r="1.5" fill="none" stroke="#ff0000" stroke-width="1"/>
<circle cx="259.90" cy="232.78" r="1.5" fill="none" stroke="#ff0000" stroke-width="1"/>
<circle cx="263.30" cy="233.35" r="1.5" fill="none" stroke="#ff0000" stroke-width="1"/>
<circle cx="266.70" cy="233.93" r="1.5" fill="none" stroke="#ff0000" stroke-width="1"/>
<circle cx="270.10" cy="234.52" r="1.5" fill="none" stroke="#ff0000" stroke-width="1"/>
<rect x="244.60" y="227.35" width="2.8" height="2.8" fill="none" stroke="#00ff00" stroke-width="1"/>
<rect x="247.30" y="227.74" width="2.8" height="2.8" fill="none" stroke="#00ff00" stroke-width="1"/>
<rect x="250.00" y="228.15" width="2.8" height="2.8" fill="none" stroke="#00ff00" stroke-width="1"/>
<rect x="252.70" y="228.56" width="2.8" height="2.8" fill="none" stroke="#00ff00" stroke-width="1"/>
<rect x="255.40" y="228.98" width="2.8" height="2.8" fill="none" stroke="#00ff00" stroke-width="1"/>
<rect x="258.10" y="229.42" width="2.8" height="2.8" fill="none" stroke="#00ff00" stroke-width="1"/>
<rect x="260.80" y="229.86" width="2.8" height="2.8" fill="none" stroke="#00ff00" stroke-width="1"/>
<rect x="263.50" y="230.32" width="2.8" height="2.8" fill="none" stroke="#00ff00" stroke-width="1"/>
<rect x="266.20" y="230.78" width="2.8" height="2.8" fill="none" stroke="#00ff00" stroke-width="1"/>
<rect x="268.90" y="231.26" width="2.8" height="2.8" fill="none" stroke="#00ff00" stroke-width="1"/>
<rect x="271.60" y="231.75" width="2.8" height="2.8" fill="none" stroke="#00ff00" stroke-width="1"/>
<rect x="274.30" y="232.24" width="2.8" height="2.8" fill="none" stroke="#00ff00" stroke-width="1"/>
<rect x="277.00" y="232.75" width="2.8" height="2.8" fill="none" stroke="#00ff00" stroke-width="1"/>
<rect x="279.70" y="233.27" width="2.8" height="2.8" fill="none" stroke="#00ff00" stroke-width="1"/>
<rect x="282.40" y="233.79" width="2.8" height="2.8" fill="none" stroke="#00ff00" stroke-width="1"/>
<rect x="285.10" y="234.33" width="2.8" height="2.8" fill="none" stroke="#00ff00" stroke-width="1"/>
<rect x="287.80" y="234.88" width="2.8" height="2.8" fill="none" stroke="#00ff00" stroke-width="1"/>
<polyline points="290.00,236.45 291.88,236.84 293.77,237.23 295.65,237.63 297.53,238.04 299.42,238.45 301.30,238.87 303.18,239.29 305.07,239.71 306.95,240.14 308.83,240.58 310.72,241.02 312.60,241.47 314.48,241.92 316.37,242.38 318.25,242.84 320.13,243.30 322.02,243.78 323.90,244.25 325.78,244.73 327.67,245.22 329.55,245.71 331.43,246.21 333.32,246.71 335.20,247.22 337.08,247.73 338.97,248.25 340.85,248.77 342.73,249.29 344.62,249.83 346.50,250.36" fill="none" stroke="#00ff00" stroke-width="1.9"/>
<circle cx="292.00" cy="236.46" r="1.45" fill="#22ee22" stroke="#b050c0" stroke-width="0.4"/>
<circle cx="296.40" cy="237.39" r="1.45" fill="#22ee22" stroke="#b050c0" stroke-width="0.4"/>
<circle cx="300.80" cy="238.36" r="1.45" fill="#22ee22" stroke="#b050c0" stroke-width="0.4"/>
<circle cx="305.20" cy="239.34" r="1.45" fill="#22ee22" stroke="#b050c0" stroke-width="0.4"/>
<circle cx="309.60" cy="240.36" r="1.45" fill="#22ee22" stroke="#b050c0" stroke-width="0.4"/>
<circle cx="314.00" cy="241.40" r="1.45" fill="#22ee22" stroke="#b050c0" stroke-width="0.4"/>
<circle cx="318.40" cy="242.47" r="1.45" fill="#22ee22" stroke="#b050c0" stroke-width="0.4"/>
<circle cx="322.80" cy="243.57" r="1.45" fill="#22ee22" stroke="#b050c0" stroke-width="0.4"/>
<circle cx="327.20" cy="244.70" r="1.45" fill="#22ee22" stroke="#b050c0" stroke-width="0.4"/>
<circle cx="331.60" cy="245.85" r="1.45" fill="#22ee22" stroke="#b050c0" stroke-width="0.4"/>
<circle cx="336.00" cy="247.03" r="1.45" fill="#22ee22" stroke="#b050c0" stroke-width="0.4"/>
<circle cx="340.40" cy="248.24" r="1.45" fill="#22ee22" stroke="#b050c0" stroke-width="0.4"/>
<circle cx="344.80" cy="249.48" r="1.45" fill="#22ee22" stroke="#b050c0" stroke-width="0.4"/>
<polyline points="226.40,225.31 228.40,225.54 230.40,225.78 232.41,226.03 234.41,226.28 236.41,226.54 238.41,226.80 240.41,227.07 242.41,227.35 244.41,227.63 246.42,227.91 248.42,228.20 250.42,228.50 252.42,228.80 254.42,229.11 256.43,229.43 258.43,229.75 260.43,230.07 262.43,230.40 264.43,230.74 266.43,231.08 268.44,231.43 270.44,231.78 272.44,232.14 274.44,232.51 276.44,232.88 278.44,233.26 280.44,233.64 282.45,234.03 284.45,234.42 286.45,234.82 288.45,235.23 290.45,235.64 292.45,236.06 294.46,236.48 296.46,236.91 298.46,237.34 300.46,237.78 302.46,238.23 304.47,238.68 306.47,239.13 308.47,239.60 310.47,240.06 312.47,240.54 314.47,241.02 316.48,241.50 318.48,241.99 320.48,242.49 322.48,242.99 324.48,243.50 326.48,244.01 328.49,244.53 330.49,245.06 332.49,245.59 334.49,246.13 336.49,246.67 338.49,247.22 340.50,247.77 342.50,248.33 344.50,248.89 346.50,249.46" fill="none" stroke="#000" stroke-width="1.1" stroke-dasharray="4.5,3"/>
<polyline points="343.00,249.67 343.94,249.93 344.88,250.20 345.82,250.47 346.76,250.74 347.70,251.01" fill="none" stroke="#ff0000" stroke-width="1.4"/>
<polyline points="305.00,240.90 307.07,241.37 309.15,241.85 311.23,242.34 313.30,242.84 315.38,243.34 317.45,243.84 319.52,244.35 321.60,244.87 323.68,245.39 325.75,245.92 327.82,246.46 329.90,247.00 331.98,247.55 334.05,248.11 336.12,248.67 338.20,249.23 340.27,249.81 342.35,250.39 344.43,250.97 346.50,251.56" fill="none" stroke="#ff0000" stroke-width="1.0"/>
<circle cx="352.7" cy="143.6" r="2.5" fill="#f0c0f0" opacity="0.6"/>
<circle cx="352.7" cy="143.6" r="1.65" fill="#6a52b8" stroke="#10e010" stroke-width="1.3"/>
<circle cx="352.7" cy="162.6" r="2.5" fill="#f0c0f0" opacity="0.6"/>
<circle cx="352.7" cy="162.6" r="1.65" fill="#6a52b8" stroke="#10e010" stroke-width="1.3"/>
<circle cx="352.7" cy="183.4" r="2.5" fill="#f0c0f0" opacity="0.6"/>
<circle cx="352.7" cy="183.4" r="1.65" fill="#6a52b8" stroke="#10e010" stroke-width="1.3"/>
<circle cx="352.7" cy="203.8" r="2.5" fill="#f0c0f0" opacity="0.6"/>
<circle cx="352.7" cy="203.8" r="1.65" fill="#6a52b8" stroke="#10e010" stroke-width="1.3"/>
<circle cx="352.7" cy="223.1" r="2.5" fill="#f0c0f0" opacity="0.6"/>
<circle cx="352.7" cy="223.1" r="1.65" fill="#6a52b8" stroke="#10e010" stroke-width="1.3"/>
<circle cx="352.7" cy="238.6" r="2.5" fill="#f0c0f0" opacity="0.6"/>
<circle cx="352.7" cy="238.6" r="1.65" fill="#6a52b8" stroke="#10e010" stroke-width="1.3"/>
<circle cx="352.7" cy="250.3" r="2.5" fill="#f0c0f0" opacity="0.6"/>
<circle cx="352.7" cy="250.3" r="1.65" fill="#6a52b8" stroke="#10e010" stroke-width="1.3"/>
<circle cx="364.8" cy="160.5" r="2.5" fill="#f0c0f0" opacity="0.6"/>
<circle cx="364.8" cy="160.5" r="1.65" fill="#6a52b8" stroke="#10e010" stroke-width="1.3"/>
<circle cx="364.8" cy="176.2" r="2.5" fill="#f0c0f0" opacity="0.6"/>
<circle cx="364.8" cy="176.2" r="1.65" fill="#6a52b8" stroke="#10e010" stroke-width="1.3"/>
<circle cx="364.8" cy="193.2" r="2.5" fill="#f0c0f0" opacity="0.6"/>
<circle cx="364.8" cy="193.2" r="1.65" fill="#6a52b8" stroke="#10e010" stroke-width="1.3"/>
<circle cx="364.8" cy="211.2" r="2.5" fill="#f0c0f0" opacity="0.6"/>
<circle cx="364.8" cy="211.2" r="1.65" fill="#6a52b8" stroke="#10e010" stroke-width="1.3"/>
<circle cx="364.8" cy="227.7" r="2.5" fill="#f0c0f0" opacity="0.6"/>
<circle cx="364.8" cy="227.7" r="1.65" fill="#6a52b8" stroke="#10e010" stroke-width="1.3"/>
<circle cx="364.8" cy="241.9" r="2.5" fill="#f0c0f0" opacity="0.6"/>
<circle cx="364.8" cy="241.9" r="1.65" fill="#6a52b8" stroke="#10e010" stroke-width="1.3"/>
<circle cx="364.8" cy="253.6" r="2.5" fill="#f0c0f0" opacity="0.6"/>
<circle cx="364.8" cy="253.6" r="1.65" fill="#6a52b8" stroke="#10e010" stroke-width="1.3"/>
<rect x="226.2" y="6.2" width="152.2" height="259.6" fill="none" stroke="#000" stroke-width="1.0"/>
<line x1="241.42" y1="265.8" x2="241.42" y2="262.8" stroke="#000" stroke-width="1"/>
<line x1="241.42" y1="6.2" x2="241.42" y2="9.2" stroke="#000" stroke-width="1"/>
<line x1="256.64" y1="265.8" x2="256.64" y2="260.3" stroke="#000" stroke-width="1"/>
<line x1="256.64" y1="6.2" x2="256.64" y2="11.7" stroke="#000" stroke-width="1"/>
<line x1="271.86" y1="265.8" x2="271.86" y2="262.8" stroke="#000" stroke-width="1"/>
<line x1="271.86" y1="6.2" x2="271.86" y2="9.2" stroke="#000" stroke-width="1"/>
<line x1="287.08" y1="265.8" x2="287.08" y2="260.3" stroke="#000" stroke-width="1"/>
<line x1="287.08" y1="6.2" x2="287.08" y2="11.7" stroke="#000" stroke-width="1"/>
<line x1="302.30" y1="265.8" x2="302.30" y2="262.8" stroke="#000" stroke-width="1"/>
<line x1="302.30" y1="6.2" x2="302.30" y2="9.2" stroke="#000" stroke-width="1"/>
<line x1="317.52" y1="265.8" x2="317.52" y2="260.3" stroke="#000" stroke-width="1"/>
<line x1="317.52" y1="6.2" x2="317.52" y2="11.7" stroke="#000" stroke-width="1"/>
<line x1="332.74" y1="265.8" x2="332.74" y2="262.8" stroke="#000" stroke-width="1"/>
<line x1="332.74" y1="6.2" x2="332.74" y2="9.2" stroke="#000" stroke-width="1"/>
<line x1="347.96" y1="265.8" x2="347.96" y2="260.3" stroke="#000" stroke-width="1"/>
<line x1="347.96" y1="6.2" x2="347.96" y2="11.7" stroke="#000" stroke-width="1"/>
<line x1="363.18" y1="265.8" x2="363.18" y2="262.8" stroke="#000" stroke-width="1"/>
<line x1="363.18" y1="6.2" x2="363.18" y2="9.2" stroke="#000" stroke-width="1"/>
<line x1="226.2" y1="216.10" x2="231.7" y2="216.10" stroke="#000" stroke-width="1"/>
<line x1="378.4" y1="216.10" x2="372.9" y2="216.10" stroke="#000" stroke-width="1"/>
<line x1="226.2" y1="150.40" x2="231.7" y2="150.40" stroke="#000" stroke-width="1"/>
<line x1="378.4" y1="150.40" x2="372.9" y2="150.40" stroke="#000" stroke-width="1"/>
<line x1="226.2" y1="84.70" x2="231.7" y2="84.70" stroke="#000" stroke-width="1"/>
<line x1="378.4" y1="84.70" x2="372.9" y2="84.70" stroke="#000" stroke-width="1"/>
<line x1="226.2" y1="19.00" x2="231.7" y2="19.00" stroke="#000" stroke-width="1"/>
<line x1="378.4" y1="19.00" x2="372.9" y2="19.00" stroke="#000" stroke-width="1"/>
<line x1="226.2" y1="248.95" x2="229.2" y2="248.95" stroke="#000" stroke-width="1"/>
<line x1="378.4" y1="248.95" x2="375.4" y2="248.95" stroke="#000" stroke-width="1"/>
<line x1="226.2" y1="183.25" x2="229.2" y2="183.25" stroke="#000" stroke-width="1"/>
<line x1="378.4" y1="183.25" x2="375.4" y2="183.25" stroke="#000" stroke-width="1"/>
<line x1="226.2" y1="117.55" x2="229.2" y2="117.55" stroke="#000" stroke-width="1"/>
<line x1="378.4" y1="117.55" x2="375.4" y2="117.55" stroke="#000" stroke-width="1"/>
<line x1="226.2" y1="51.85" x2="229.2" y2="51.85" stroke="#000" stroke-width="1"/>
<line x1="378.4" y1="51.85" x2="375.4" y2="51.85" stroke="#000" stroke-width="1"/>
<g>
<text x="36.00" y="278.30" font-size="12" text-anchor="middle" style="font-family:'Liberation Serif'" stroke="#000" stroke-width="0.25" >0</text>
<text x="226.20" y="278.30" font-size="12" text-anchor="middle" style="font-family:'Liberation Serif'" stroke="#000" stroke-width="0.25" >0</text>
<text x="66.48" y="278.30" font-size="12" text-anchor="middle" style="font-family:'Liberation Serif'" stroke="#000" stroke-width="0.25" >0,1</text>
<text x="256.64" y="278.30" font-size="12" text-anchor="middle" style="font-family:'Liberation Serif'" stroke="#000" stroke-width="0.25" >0,1</text>
<text x="96.96" y="278.30" font-size="12" text-anchor="middle" style="font-family:'Liberation Serif'" stroke="#000" stroke-width="0.25" >0,2</text>
<text x="287.08" y="278.30" font-size="12" text-anchor="middle" style="font-family:'Liberation Serif'" stroke="#000" stroke-width="0.25" >0,2</text>
<text x="127.44" y="278.30" font-size="12" text-anchor="middle" style="font-family:'Liberation Serif'" stroke="#000" stroke-width="0.25" >0,3</text>
<text x="317.52" y="278.30" font-size="12" text-anchor="middle" style="font-family:'Liberation Serif'" stroke="#000" stroke-width="0.25" >0,3</text>
<text x="157.92" y="278.30" font-size="12" text-anchor="middle" style="font-family:'Liberation Serif'" stroke="#000" stroke-width="0.25" >0,4</text>
<text x="347.96" y="278.30" font-size="12" text-anchor="middle" style="font-family:'Liberation Serif'" stroke="#000" stroke-width="0.25" >0,4</text>
<text x="188.40" y="278.30" font-size="12" text-anchor="middle" style="font-family:'Liberation Serif'" stroke="#000" stroke-width="0.25" >0,5</text>
<text x="378.40" y="278.30" font-size="12" text-anchor="middle" style="font-family:'Liberation Serif'" stroke="#000" stroke-width="0.25" >0,5</text>
<text x="33.30" y="10.60" font-size="12" text-anchor="end" style="font-family:'Liberation Serif'" stroke="#000" stroke-width="0.25" >2</text>
<text x="33.60" y="270.80" font-size="12" text-anchor="end" style="font-family:'Liberation Serif'" stroke="#000" stroke-width="0.25" >1</text>
<text x="223.60" y="220.40" font-size="12" text-anchor="end" style="font-family:'Liberation Serif'" stroke="#000" stroke-width="0.25" >2</text>
<text x="223.60" y="154.70" font-size="12" text-anchor="end" style="font-family:'Liberation Serif'" stroke="#000" stroke-width="0.25" >3</text>
<text x="223.60" y="89.00" font-size="12" text-anchor="end" style="font-family:'Liberation Serif'" stroke="#000" stroke-width="0.25" >4</text>
<text x="223.60" y="23.30" font-size="12" text-anchor="end" style="font-family:'Liberation Serif'" stroke="#000" stroke-width="0.25" >5</text>
<text x="180.20" y="29.10" font-size="19" text-anchor="end" style="font-family:'Liberation Serif'" stroke="#000" stroke-width="0.25" >a)</text>
<text x="367.20" y="29.00" font-size="19.5" text-anchor="end" style="font-family:'Liberation Serif'" stroke="#000" stroke-width="0.25" >b)</text>
<text x="89.2" y="299" font-size="14" style="font-family:'Liberation Serif'" stroke="#000" stroke-width="0.25">(L/σ)<tspan font-size="9.8" dx="1.3" dy="-8.6">-1/2</tspan></text>
<text x="278.3" y="299" font-size="14" style="font-family:'Liberation Serif'" stroke="#000" stroke-width="0.25">(L/σ)<tspan font-size="9.8" dx="1.3" dy="-8.6">-1/2</tspan></text>
<text transform="translate(18.2,193.8) rotate(-90)" font-size="15" style="font-family:'Liberation Serif'" stroke="#000" stroke-width="0.25">l<tspan font-size="10" dy="5">K</tspan><tspan dy="-5">(L</tspan><tspan font-size="10" dx="0.5" dy="-6.5" fill="#000" stroke="#000">-1/2</tspan><tspan dy="6.5">,N</tspan><tspan font-size="10" dy="5">K</tspan><tspan font-size="10" dy="-11.5" fill="#000" stroke="#000">-1/2</tspan><tspan dy="6.5">; κ)/σ</tspan></text>
<text transform="translate(209.2,193.3) rotate(-90)" font-size="15" style="font-family:'Liberation Serif'" stroke="#000" stroke-width="0.25">l<tspan font-size="10" dy="5">K</tspan><tspan dy="-5">(L</tspan><tspan font-size="10" dx="0.5" dy="-6.5" fill="#8a8a8a" stroke="#8a8a8a">-1/2</tspan><tspan dy="6.5">,N</tspan><tspan font-size="10" dy="5">K</tspan><tspan font-size="10" dy="-11.5" fill="#8a8a8a" stroke="#8a8a8a">-1/2</tspan><tspan dy="6.5">; κ)/σ</tspan></text>
</g>
</svg></body></html>
